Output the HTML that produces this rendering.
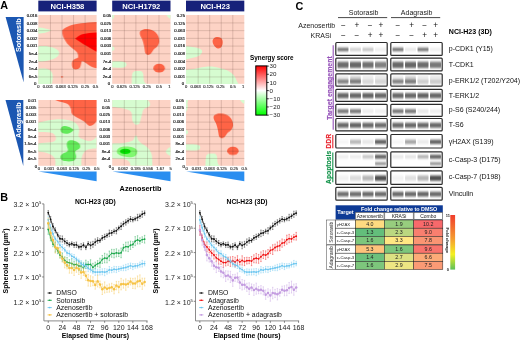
<!DOCTYPE html>
<html><head><meta charset="utf-8"><style>
html,body{margin:0;padding:0;background:#fff;}
body{width:520px;height:340px;overflow:hidden;}
svg{display:block;font-family:"Liberation Sans", sans-serif;will-change:transform;}
</style></head><body>
<svg width="520" height="340" viewBox="0 0 520 340">
<rect width="520" height="340" fill="#fff"/>
<text x="0.30" y="9.40" font-size="10.8" text-anchor="start" font-weight="bold" fill="#000" >A</text>
<rect x="38.30" y="0.6" width="58.30" height="10.8" fill="#17217a"/>
<text x="67.45" y="8.50" font-size="7.6" text-anchor="middle" font-weight="bold" fill="#fff" >NCI-H358</text>
<rect x="112.20" y="0.6" width="58.30" height="10.8" fill="#17217a"/>
<text x="141.35" y="8.50" font-size="7.6" text-anchor="middle" font-weight="bold" fill="#fff" >NCI-H1792</text>
<rect x="186.00" y="0.6" width="58.30" height="10.8" fill="#17217a"/>
<text x="215.15" y="8.50" font-size="7.6" text-anchor="middle" font-weight="bold" fill="#fff" >NCI-H23</text>
<g transform="translate(38.30,15.00)">
<rect x="0" y="0" width="58.30" height="68.80" fill="#fdd3c5"/>
<svg x="0" y="0" width="58.30" height="68.80" overflow="hidden"><g transform="scale(1,1.0000)">
<path d="M0,12.6 C5,12.6 9,14 12.6,15.6 C9,17.4 5,18.6 0,18.8 Z" fill="#d6fcd0"/>
<path d="M0,31.3 C4,31 9,30.8 11,31.8 C17,33 21,35 21,38.2 C20.5,41 18,43 15,44 C10,46 5,46.6 0,46.6 Z" fill="#d6fcd0"/>
<path d="M0,53.8 C3,53.4 6.6,53.2 9,54 C12,54.8 13.3,56.5 14.2,59 C15,62 14.3,66 13.5,69 L0,69 Z" fill="#d6fcd0"/>
<path d="M23.9,15.2 C26,12.8 29,11.5 32,10.4 C38,8.8 46,7.6 58.3,7 L58.3,53.2 C55,52.8 52.5,51.6 50,49.8 C47.8,48.2 45.5,46.2 43.6,46.2 C42.6,48 42.8,51 41.5,52.8 C40,54.5 37,54.8 35.3,54 C33.5,52.5 33.4,49 33.8,47 C34.5,44.5 37,43.5 39.5,43 C40.5,41 39.6,38.5 38.4,37 C35.5,34 31,31 29,28.7 C26.8,26 24.6,22 24,18.6 Z" fill="#fe6446"/>
<path d="M37.6,23.3 C39.8,20.8 42.5,19.6 45.2,19 C49,18.2 53,17.7 58.3,17.5 L58.3,36.8 C55.5,35 52.5,33 49.3,31.4 C45.5,29.5 42.4,27.5 40,25.8 C38.5,24.8 37.4,24 36.6,23.2 Z" fill="#ff0000"/>
<circle cx="23.7" cy="61.8" r="0.9" fill="#fe6446"/>
</g></svg>
<line x1="12.15" y1="0" x2="12.15" y2="68.80" stroke="#4a2a20" stroke-opacity="0.21" stroke-width="0.85"/>
<line x1="23.70" y1="0" x2="23.70" y2="68.80" stroke="#4a2a20" stroke-opacity="0.21" stroke-width="0.85"/>
<line x1="35.25" y1="0" x2="35.25" y2="68.80" stroke="#4a2a20" stroke-opacity="0.21" stroke-width="0.85"/>
<line x1="46.80" y1="0" x2="46.80" y2="68.80" stroke="#4a2a20" stroke-opacity="0.21" stroke-width="0.85"/>
<line x1="0" y1="7.92" x2="58.30" y2="7.92" stroke="#4a2a20" stroke-opacity="0.2" stroke-width="0.85"/>
<line x1="0" y1="15.64" x2="58.30" y2="15.64" stroke="#4a2a20" stroke-opacity="0.2" stroke-width="0.85"/>
<line x1="0" y1="23.36" x2="58.30" y2="23.36" stroke="#4a2a20" stroke-opacity="0.2" stroke-width="0.85"/>
<line x1="0" y1="31.08" x2="58.30" y2="31.08" stroke="#4a2a20" stroke-opacity="0.2" stroke-width="0.85"/>
<line x1="0" y1="38.80" x2="58.30" y2="38.80" stroke="#4a2a20" stroke-opacity="0.2" stroke-width="0.85"/>
<line x1="0" y1="46.52" x2="58.30" y2="46.52" stroke="#4a2a20" stroke-opacity="0.2" stroke-width="0.85"/>
<line x1="0" y1="54.24" x2="58.30" y2="54.24" stroke="#4a2a20" stroke-opacity="0.2" stroke-width="0.85"/>
<line x1="0" y1="61.96" x2="58.30" y2="61.96" stroke="#4a2a20" stroke-opacity="0.2" stroke-width="0.85"/>
</g>
<text x="37.30" y="16.90" font-size="4.25" text-anchor="end" fill="#222" stroke="#222" stroke-width="0.18">0.016</text>
<text x="37.30" y="24.54" font-size="4.25" text-anchor="end" fill="#222" stroke="#222" stroke-width="0.18">0.008</text>
<text x="37.30" y="32.19" font-size="4.25" text-anchor="end" fill="#222" stroke="#222" stroke-width="0.18">0.004</text>
<text x="37.30" y="39.83" font-size="4.25" text-anchor="end" fill="#222" stroke="#222" stroke-width="0.18">0.002</text>
<text x="37.30" y="47.48" font-size="4.25" text-anchor="end" fill="#222" stroke="#222" stroke-width="0.18">0.001</text>
<text x="37.30" y="55.12" font-size="4.25" text-anchor="end" fill="#222" stroke="#222" stroke-width="0.18">5e-4</text>
<text x="37.30" y="62.77" font-size="4.25" text-anchor="end" fill="#222" stroke="#222" stroke-width="0.18">2e-4</text>
<text x="37.30" y="70.41" font-size="4.25" text-anchor="end" fill="#222" stroke="#222" stroke-width="0.18">1e-4</text>
<text x="37.30" y="78.06" font-size="4.25" text-anchor="end" fill="#222" stroke="#222" stroke-width="0.18">6e-5</text>
<text x="36.30" y="85.10" font-size="4.25" text-anchor="end" fill="#222" stroke="#222" stroke-width="0.18">0</text>
<text x="38.50" y="88.30" font-size="4.05" text-anchor="middle" fill="#333" stroke="#333" stroke-width="0.15">0</text>
<text x="47.90" y="88.30" font-size="4.05" text-anchor="middle" fill="#333" stroke="#333" stroke-width="0.15">0.001</text>
<text x="60.70" y="88.30" font-size="4.05" text-anchor="middle" fill="#333" stroke="#333" stroke-width="0.15">0.063</text>
<text x="72.80" y="88.30" font-size="4.05" text-anchor="middle" fill="#333" stroke="#333" stroke-width="0.15">0.125</text>
<text x="85.20" y="88.30" font-size="4.05" text-anchor="middle" fill="#333" stroke="#333" stroke-width="0.15">0.25</text>
<text x="95.50" y="88.30" font-size="4.05" text-anchor="middle" fill="#333" stroke="#333" stroke-width="0.15">0.5</text>
<g transform="translate(38.30,100.00)">
<rect x="0" y="0" width="58.30" height="65.80" fill="#fdd3c5"/>
<svg x="0" y="0" width="58.30" height="65.80" overflow="hidden"><g transform="scale(1,1.0000)">
<path d="M0,22.6 C5,21.2 11,19.8 17,19.4 C23,19 29,19.6 33.5,21 C37.5,22.4 40,25 40.8,28.4 C41.2,31 40.6,33 40.1,35.4 C40.5,37.5 42.3,38.4 44,39 C47,40.5 50,41.5 52.5,41 C55,40.3 57,38.5 58.3,36.5 L58.3,48.6 C55,48.5 52.5,48.8 50.5,49.2 C47.5,50 45.5,52 44.2,55 C43,58 42.9,62 43.2,65.8 L17,65.8 C17.3,63 17.5,60 16.2,58 C14.5,55.5 11.5,53.8 8.5,53 C5,52 2.5,51.6 0,51.5 L0,43.4 C4,43 9,42.8 13.5,42.3 C16.5,41.6 17.8,40 17.7,38 C17.5,36 16.6,34.5 14.5,33.2 C11.5,32 7,32 3,32 L0,32 Z" fill="#d6fcd0"/>
<path d="M17,0 L58.3,0 L58.3,20.9 C57,23 55.5,24.5 53.5,25.5 C52,26.2 51,26 50.2,25.6 C48.5,24.2 47.5,22.8 45.9,21.5 C43,19.5 40,18 37.8,16.9 C35.5,15.8 33.8,14.5 33.2,12.8 C32.8,11 33,9.5 32.6,8.8 C31.8,6.5 30.5,5 29.3,4.1 C27,2.8 24.5,2.2 22.8,1.9 C20,1.4 18.5,0.8 17,0 Z" fill="#fe6446"/>
<path d="M22.3,29.8 C22.5,27.5 24,26.2 26,26 C28.5,25.8 31,26.8 33,28.2 C34.2,29 35.2,29.6 35.6,29.9 C34.5,31 33,32.4 31,33.2 C29,33.9 26.5,34 24.5,33.3 C23,32.6 22.2,31.3 22.3,29.8 Z" fill="#62ea5a"/>
<path d="M30.9,40.4 C33.5,40 36.5,40.5 39,42 C41.5,43.5 42.4,45.5 41.8,47.5 C41,49.3 38.5,50 37,51.2 C36.5,52.5 37.8,54.5 37.9,56.5 C38,58.5 36.8,60.5 34.5,61.1 C31.5,61.6 27,61.5 24.5,60.5 C22.4,59.5 21.8,57.8 22.2,56.2 C22.8,54.3 25,53.2 27.3,52.5 C29.3,51.6 30,50.5 29.6,49 C29,47.5 28.3,45.5 28.5,43.8 C28.7,42 29.5,40.7 30.9,40.4 Z" fill="#62ea5a"/>
</g></svg>
<line x1="12.10" y1="0" x2="12.10" y2="65.80" stroke="#4a2a20" stroke-opacity="0.21" stroke-width="0.85"/>
<line x1="23.70" y1="0" x2="23.70" y2="65.80" stroke="#4a2a20" stroke-opacity="0.21" stroke-width="0.85"/>
<line x1="35.30" y1="0" x2="35.30" y2="65.80" stroke="#4a2a20" stroke-opacity="0.21" stroke-width="0.85"/>
<line x1="46.90" y1="0" x2="46.90" y2="65.80" stroke="#4a2a20" stroke-opacity="0.21" stroke-width="0.85"/>
<line x1="0" y1="7.57" x2="58.30" y2="7.57" stroke="#4a2a20" stroke-opacity="0.2" stroke-width="0.85"/>
<line x1="0" y1="14.84" x2="58.30" y2="14.84" stroke="#4a2a20" stroke-opacity="0.2" stroke-width="0.85"/>
<line x1="0" y1="22.11" x2="58.30" y2="22.11" stroke="#4a2a20" stroke-opacity="0.2" stroke-width="0.85"/>
<line x1="0" y1="29.38" x2="58.30" y2="29.38" stroke="#4a2a20" stroke-opacity="0.2" stroke-width="0.85"/>
<line x1="0" y1="36.65" x2="58.30" y2="36.65" stroke="#4a2a20" stroke-opacity="0.2" stroke-width="0.85"/>
<line x1="0" y1="43.92" x2="58.30" y2="43.92" stroke="#4a2a20" stroke-opacity="0.2" stroke-width="0.85"/>
<line x1="0" y1="51.19" x2="58.30" y2="51.19" stroke="#4a2a20" stroke-opacity="0.2" stroke-width="0.85"/>
<line x1="0" y1="58.46" x2="58.30" y2="58.46" stroke="#4a2a20" stroke-opacity="0.2" stroke-width="0.85"/>
</g>
<text x="36.30" y="101.50" font-size="4.25" text-anchor="end" fill="#222" stroke="#222" stroke-width="0.18">0.01</text>
<text x="36.30" y="108.81" font-size="4.25" text-anchor="end" fill="#222" stroke="#222" stroke-width="0.18">0.005</text>
<text x="36.30" y="116.12" font-size="4.25" text-anchor="end" fill="#222" stroke="#222" stroke-width="0.18">0.003</text>
<text x="36.30" y="123.43" font-size="4.25" text-anchor="end" fill="#222" stroke="#222" stroke-width="0.18">0.001</text>
<text x="36.30" y="130.74" font-size="4.25" text-anchor="end" fill="#222" stroke="#222" stroke-width="0.18">6e-4</text>
<text x="36.30" y="138.06" font-size="4.25" text-anchor="end" fill="#222" stroke="#222" stroke-width="0.18">3e-4</text>
<text x="36.30" y="145.37" font-size="4.25" text-anchor="end" fill="#222" stroke="#222" stroke-width="0.18">1.5e-4</text>
<text x="36.30" y="152.68" font-size="4.25" text-anchor="end" fill="#222" stroke="#222" stroke-width="0.18">8e-5</text>
<text x="36.30" y="159.99" font-size="4.25" text-anchor="end" fill="#222" stroke="#222" stroke-width="0.18">4e-5</text>
<text x="37.10" y="167.60" font-size="4.25" text-anchor="end" fill="#222" stroke="#222" stroke-width="0.18">0</text>
<text x="39.00" y="170.30" font-size="4.05" text-anchor="middle" fill="#333" stroke="#333" stroke-width="0.15">0</text>
<text x="49.10" y="170.30" font-size="4.05" text-anchor="middle" fill="#333" stroke="#333" stroke-width="0.15">0.001</text>
<text x="61.90" y="170.30" font-size="4.05" text-anchor="middle" fill="#333" stroke="#333" stroke-width="0.15">0.063</text>
<text x="74.00" y="170.30" font-size="4.05" text-anchor="middle" fill="#333" stroke="#333" stroke-width="0.15">0.125</text>
<text x="86.40" y="170.30" font-size="4.05" text-anchor="middle" fill="#333" stroke="#333" stroke-width="0.15">0.25</text>
<text x="96.70" y="170.30" font-size="4.05" text-anchor="middle" fill="#333" stroke="#333" stroke-width="0.15">0.5</text>
<g transform="translate(112.20,15.00)">
<rect x="0" y="0" width="58.30" height="68.80" fill="#fdd3c5"/>
<svg x="0" y="0" width="58.30" height="68.80" overflow="hidden"><g transform="scale(1,1.0000)">
<path d="M0,0 L2,0 C2,2 1.5,3.5 0,4.8 Z" fill="#d6fcd0"/>
<path d="M54.3,0 L58.3,0 L58.3,3.8 C56.5,3.2 55,1.8 54.3,0 Z" fill="#d6fcd0"/>
<path d="M0,30.9 Q4.6,33.5 0,36.2 Z" fill="#d6fcd0"/>
<path d="M28,16.3 C30,14.6 32,14 34.4,14 C38,14 41.3,15.2 43.5,17.5 C46,20 47.3,23.5 47.1,26.7 C46.8,30 44.5,32.2 42.5,33.6 C40.5,35 40,37.5 38.5,38.8 C37.3,40 35.6,40.2 34.5,39.6 C33,38.8 32.7,37 32.5,35 C32.2,32 31.3,28.5 30.4,25.5 C29.6,22.8 27.3,20.5 27.5,18 C27.6,17.2 27.8,16.7 28,16.3 Z" fill="#fe6446"/>
<ellipse cx="46.9" cy="53.2" rx="5.8" ry="4.4" fill="#fe6446"/>
<path d="M0,46.3 C4,46.2 8,46.3 10.2,46.6 C13,47 14.4,48 14.3,49.6 C14.2,51 13.5,52 11.5,52.4 C8,52.9 4,52.8 0,52.6 Z" fill="#d6fcd0"/>
<path d="M19.4,69 C19.6,65 19.5,61 20.2,58.6 C20.8,56.8 22,56 23.5,55.9 L28,55.9 C29.8,56 30.8,57.5 31.1,59.5 C31.5,62 31.2,64.5 31.8,66.3 C32.5,67.7 33.5,68.5 34.4,69 Z" fill="#d6fcd0"/>
</g></svg>
<line x1="12.15" y1="0" x2="12.15" y2="68.80" stroke="#4a2a20" stroke-opacity="0.21" stroke-width="0.85"/>
<line x1="23.70" y1="0" x2="23.70" y2="68.80" stroke="#4a2a20" stroke-opacity="0.21" stroke-width="0.85"/>
<line x1="35.25" y1="0" x2="35.25" y2="68.80" stroke="#4a2a20" stroke-opacity="0.21" stroke-width="0.85"/>
<line x1="46.80" y1="0" x2="46.80" y2="68.80" stroke="#4a2a20" stroke-opacity="0.21" stroke-width="0.85"/>
<line x1="0" y1="7.92" x2="58.30" y2="7.92" stroke="#4a2a20" stroke-opacity="0.2" stroke-width="0.85"/>
<line x1="0" y1="15.64" x2="58.30" y2="15.64" stroke="#4a2a20" stroke-opacity="0.2" stroke-width="0.85"/>
<line x1="0" y1="23.36" x2="58.30" y2="23.36" stroke="#4a2a20" stroke-opacity="0.2" stroke-width="0.85"/>
<line x1="0" y1="31.08" x2="58.30" y2="31.08" stroke="#4a2a20" stroke-opacity="0.2" stroke-width="0.85"/>
<line x1="0" y1="38.80" x2="58.30" y2="38.80" stroke="#4a2a20" stroke-opacity="0.2" stroke-width="0.85"/>
<line x1="0" y1="46.52" x2="58.30" y2="46.52" stroke="#4a2a20" stroke-opacity="0.2" stroke-width="0.85"/>
<line x1="0" y1="54.24" x2="58.30" y2="54.24" stroke="#4a2a20" stroke-opacity="0.2" stroke-width="0.85"/>
<line x1="0" y1="61.96" x2="58.30" y2="61.96" stroke="#4a2a20" stroke-opacity="0.2" stroke-width="0.85"/>
</g>
<text x="111.20" y="16.90" font-size="4.25" text-anchor="end" fill="#222" stroke="#222" stroke-width="0.18">0.05</text>
<text x="111.20" y="24.54" font-size="4.25" text-anchor="end" fill="#222" stroke="#222" stroke-width="0.18">0.025</text>
<text x="111.20" y="32.19" font-size="4.25" text-anchor="end" fill="#222" stroke="#222" stroke-width="0.18">0.013</text>
<text x="111.20" y="39.83" font-size="4.25" text-anchor="end" fill="#222" stroke="#222" stroke-width="0.18">0.006</text>
<text x="111.20" y="47.48" font-size="4.25" text-anchor="end" fill="#222" stroke="#222" stroke-width="0.18">0.003</text>
<text x="111.20" y="55.12" font-size="4.25" text-anchor="end" fill="#222" stroke="#222" stroke-width="0.18">0.001</text>
<text x="111.20" y="62.77" font-size="4.25" text-anchor="end" fill="#222" stroke="#222" stroke-width="0.18">7e-4</text>
<text x="111.20" y="70.41" font-size="4.25" text-anchor="end" fill="#222" stroke="#222" stroke-width="0.18">4e-4</text>
<text x="111.20" y="78.06" font-size="4.25" text-anchor="end" fill="#222" stroke="#222" stroke-width="0.18">2e-4</text>
<text x="110.20" y="85.10" font-size="4.25" text-anchor="end" fill="#222" stroke="#222" stroke-width="0.18">0</text>
<text x="112.40" y="88.30" font-size="4.05" text-anchor="middle" fill="#333" stroke="#333" stroke-width="0.15">0</text>
<text x="121.80" y="88.30" font-size="4.05" text-anchor="middle" fill="#333" stroke="#333" stroke-width="0.15">0.625</text>
<text x="134.60" y="88.30" font-size="4.05" text-anchor="middle" fill="#333" stroke="#333" stroke-width="0.15">0.125</text>
<text x="146.70" y="88.30" font-size="4.05" text-anchor="middle" fill="#333" stroke="#333" stroke-width="0.15">0.25</text>
<text x="159.10" y="88.30" font-size="4.05" text-anchor="middle" fill="#333" stroke="#333" stroke-width="0.15">0.5</text>
<text x="169.40" y="88.30" font-size="4.05" text-anchor="middle" fill="#333" stroke="#333" stroke-width="0.15">1</text>
<g transform="translate(112.20,100.00)">
<rect x="0" y="0" width="58.30" height="65.80" fill="#fdd3c5"/>
<svg x="0" y="0" width="58.30" height="65.80" overflow="hidden"><g transform="scale(1,1.0000)">
<path d="M0,0 L35.6,0 C37,1.5 38,3 37.9,4.8 C37.5,6.5 35.5,7.3 33.5,8 C31.5,8.8 30.7,10 30.4,11.8 C30,14 29.2,16.5 28.6,18.7 C28,21 27.6,23 26.9,23.9 C25.5,24.8 23.8,24.8 22.9,24.4 C21.2,23.2 20.3,21.5 20,19.8 C19.8,17 19.8,14.5 19.4,12.9 C18.4,10.8 16.5,9.8 14.8,9.4 C11,8.3 7,7.8 3.5,7.3 L0,7.1 Z" fill="#d6fcd0"/>
<path d="M0,43.4 C4,43.2 8,43.1 11.3,42.9 C15,42.5 18.5,41.8 20.6,40.6 C22,39.3 22.3,37 23,35.8 C23.6,35.2 24.4,35.4 24.8,36.5 C25.2,38 25.3,39.5 26.5,41 C28,42.6 29.8,43.8 31,44.6 C33.5,46 35.5,47.5 36.7,49.2 C38.3,51.2 39.3,53.3 39.6,55 C40,58 40.1,62 40.2,65.8 L18.3,65.8 C18.1,64 17.9,62.8 17.1,61.9 C15.6,60.2 13.8,59.4 11.3,59 C7.5,58.6 3.5,58.4 0,58.4 Z" fill="#d6fcd0"/>
<path d="M58.3,46.9 C56,47.8 54,49.5 53.5,51.5 C54,53.5 56,55.2 58.3,56.1 Z" fill="#d6fcd0"/>
<path d="M4.6,51.5 C4.6,48.5 8,46.6 13,46.5 C18.5,46.4 23.5,47.8 24.8,50.5 C25.6,52.5 24.6,55 22.2,56.4 C20,57.4 16,57.4 12,56.6 C7.5,55.6 4.6,54 4.6,51.5 Z" fill="#80f870"/>
<ellipse cx="13.1" cy="51.3" rx="5.2" ry="2.6" fill="#00e400"/>
</g></svg>
<line x1="12.10" y1="0" x2="12.10" y2="65.80" stroke="#4a2a20" stroke-opacity="0.21" stroke-width="0.85"/>
<line x1="23.70" y1="0" x2="23.70" y2="65.80" stroke="#4a2a20" stroke-opacity="0.21" stroke-width="0.85"/>
<line x1="35.30" y1="0" x2="35.30" y2="65.80" stroke="#4a2a20" stroke-opacity="0.21" stroke-width="0.85"/>
<line x1="46.90" y1="0" x2="46.90" y2="65.80" stroke="#4a2a20" stroke-opacity="0.21" stroke-width="0.85"/>
<line x1="0" y1="7.57" x2="58.30" y2="7.57" stroke="#4a2a20" stroke-opacity="0.2" stroke-width="0.85"/>
<line x1="0" y1="14.84" x2="58.30" y2="14.84" stroke="#4a2a20" stroke-opacity="0.2" stroke-width="0.85"/>
<line x1="0" y1="22.11" x2="58.30" y2="22.11" stroke="#4a2a20" stroke-opacity="0.2" stroke-width="0.85"/>
<line x1="0" y1="29.38" x2="58.30" y2="29.38" stroke="#4a2a20" stroke-opacity="0.2" stroke-width="0.85"/>
<line x1="0" y1="36.65" x2="58.30" y2="36.65" stroke="#4a2a20" stroke-opacity="0.2" stroke-width="0.85"/>
<line x1="0" y1="43.92" x2="58.30" y2="43.92" stroke="#4a2a20" stroke-opacity="0.2" stroke-width="0.85"/>
<line x1="0" y1="51.19" x2="58.30" y2="51.19" stroke="#4a2a20" stroke-opacity="0.2" stroke-width="0.85"/>
<line x1="0" y1="58.46" x2="58.30" y2="58.46" stroke="#4a2a20" stroke-opacity="0.2" stroke-width="0.85"/>
</g>
<text x="110.20" y="101.50" font-size="4.25" text-anchor="end" fill="#222" stroke="#222" stroke-width="0.18">0.1</text>
<text x="110.20" y="108.81" font-size="4.25" text-anchor="end" fill="#222" stroke="#222" stroke-width="0.18">0.05</text>
<text x="110.20" y="116.12" font-size="4.25" text-anchor="end" fill="#222" stroke="#222" stroke-width="0.18">0.025</text>
<text x="110.20" y="123.43" font-size="4.25" text-anchor="end" fill="#222" stroke="#222" stroke-width="0.18">0.013</text>
<text x="110.20" y="130.74" font-size="4.25" text-anchor="end" fill="#222" stroke="#222" stroke-width="0.18">0.006</text>
<text x="110.20" y="138.06" font-size="4.25" text-anchor="end" fill="#222" stroke="#222" stroke-width="0.18">0.003</text>
<text x="110.20" y="145.37" font-size="4.25" text-anchor="end" fill="#222" stroke="#222" stroke-width="0.18">0.001</text>
<text x="110.20" y="152.68" font-size="4.25" text-anchor="end" fill="#222" stroke="#222" stroke-width="0.18">8e-4</text>
<text x="110.20" y="159.99" font-size="4.25" text-anchor="end" fill="#222" stroke="#222" stroke-width="0.18">4e-4</text>
<text x="111.00" y="167.60" font-size="4.25" text-anchor="end" fill="#222" stroke="#222" stroke-width="0.18">0</text>
<text x="112.90" y="170.30" font-size="4.05" text-anchor="middle" fill="#333" stroke="#333" stroke-width="0.15">0</text>
<text x="123.00" y="170.30" font-size="4.05" text-anchor="middle" fill="#333" stroke="#333" stroke-width="0.15">0.062</text>
<text x="135.80" y="170.30" font-size="4.05" text-anchor="middle" fill="#333" stroke="#333" stroke-width="0.15">0.185</text>
<text x="147.90" y="170.30" font-size="4.05" text-anchor="middle" fill="#333" stroke="#333" stroke-width="0.15">0.556</text>
<text x="160.30" y="170.30" font-size="4.05" text-anchor="middle" fill="#333" stroke="#333" stroke-width="0.15">1.67</text>
<text x="170.60" y="170.30" font-size="4.05" text-anchor="middle" fill="#333" stroke="#333" stroke-width="0.15">5</text>
<g transform="translate(186.00,15.00)">
<rect x="0" y="0" width="58.30" height="68.80" fill="#fdd3c5"/>
<svg x="0" y="0" width="58.30" height="68.80" overflow="hidden"><g transform="scale(1,1.0000)">
<path d="M30.6,22.1 C33.5,21.8 35.6,22.8 36.3,24.8 C37,27 36.8,29.5 35.8,31.3 C34.8,33 33.3,33.8 31.8,33.5 C30,33 28.5,31.5 27.6,29.8 C26.6,28 26.2,26 27,24.5 C27.8,23 29,22.3 30.6,22.1 Z" fill="#fe6446"/>
<path d="M0,31.3 C4,31.5 9,32.2 12.5,33.2 C15.5,34 16.8,35.5 16,37.5 C15,39.7 13,41 10,42 C6.5,43 3,43.8 0,44.5 Z" fill="#d6fcd0"/>
<path d="M0,54.9 C3,54.7 7,54.3 10,53.6 C14,52.6 18,51.8 22,51.5 C26,51.3 30,52 34.6,53.2 C38.5,54.3 41.6,55.2 44,56.9 C46.6,58.5 48.4,60.5 49.5,63 C50.5,65.5 51.5,67.5 52.5,69 L0,69 Z" fill="#d6fcd0"/>
</g></svg>
<line x1="12.15" y1="0" x2="12.15" y2="68.80" stroke="#4a2a20" stroke-opacity="0.21" stroke-width="0.85"/>
<line x1="23.70" y1="0" x2="23.70" y2="68.80" stroke="#4a2a20" stroke-opacity="0.21" stroke-width="0.85"/>
<line x1="35.25" y1="0" x2="35.25" y2="68.80" stroke="#4a2a20" stroke-opacity="0.21" stroke-width="0.85"/>
<line x1="46.80" y1="0" x2="46.80" y2="68.80" stroke="#4a2a20" stroke-opacity="0.21" stroke-width="0.85"/>
<line x1="0" y1="7.92" x2="58.30" y2="7.92" stroke="#4a2a20" stroke-opacity="0.2" stroke-width="0.85"/>
<line x1="0" y1="15.64" x2="58.30" y2="15.64" stroke="#4a2a20" stroke-opacity="0.2" stroke-width="0.85"/>
<line x1="0" y1="23.36" x2="58.30" y2="23.36" stroke="#4a2a20" stroke-opacity="0.2" stroke-width="0.85"/>
<line x1="0" y1="31.08" x2="58.30" y2="31.08" stroke="#4a2a20" stroke-opacity="0.2" stroke-width="0.85"/>
<line x1="0" y1="38.80" x2="58.30" y2="38.80" stroke="#4a2a20" stroke-opacity="0.2" stroke-width="0.85"/>
<line x1="0" y1="46.52" x2="58.30" y2="46.52" stroke="#4a2a20" stroke-opacity="0.2" stroke-width="0.85"/>
<line x1="0" y1="54.24" x2="58.30" y2="54.24" stroke="#4a2a20" stroke-opacity="0.2" stroke-width="0.85"/>
<line x1="0" y1="61.96" x2="58.30" y2="61.96" stroke="#4a2a20" stroke-opacity="0.2" stroke-width="0.85"/>
</g>
<text x="185.00" y="16.90" font-size="4.25" text-anchor="end" fill="#222" stroke="#222" stroke-width="0.18">0.25</text>
<text x="185.00" y="24.54" font-size="4.25" text-anchor="end" fill="#222" stroke="#222" stroke-width="0.18">0.125</text>
<text x="185.00" y="32.19" font-size="4.25" text-anchor="end" fill="#222" stroke="#222" stroke-width="0.18">0.063</text>
<text x="185.00" y="39.83" font-size="4.25" text-anchor="end" fill="#222" stroke="#222" stroke-width="0.18">0.031</text>
<text x="185.00" y="47.48" font-size="4.25" text-anchor="end" fill="#222" stroke="#222" stroke-width="0.18">0.016</text>
<text x="185.00" y="55.12" font-size="4.25" text-anchor="end" fill="#222" stroke="#222" stroke-width="0.18">0.008</text>
<text x="185.00" y="62.77" font-size="4.25" text-anchor="end" fill="#222" stroke="#222" stroke-width="0.18">0.004</text>
<text x="185.00" y="70.41" font-size="4.25" text-anchor="end" fill="#222" stroke="#222" stroke-width="0.18">0.002</text>
<text x="185.00" y="78.06" font-size="4.25" text-anchor="end" fill="#222" stroke="#222" stroke-width="0.18">0.001</text>
<text x="184.00" y="85.10" font-size="4.25" text-anchor="end" fill="#222" stroke="#222" stroke-width="0.18">0</text>
<text x="186.20" y="88.30" font-size="4.05" text-anchor="middle" fill="#333" stroke="#333" stroke-width="0.15">0</text>
<text x="195.60" y="88.30" font-size="4.05" text-anchor="middle" fill="#333" stroke="#333" stroke-width="0.15">0.063</text>
<text x="208.40" y="88.30" font-size="4.05" text-anchor="middle" fill="#333" stroke="#333" stroke-width="0.15">0.125</text>
<text x="220.50" y="88.30" font-size="4.05" text-anchor="middle" fill="#333" stroke="#333" stroke-width="0.15">0.25</text>
<text x="232.90" y="88.30" font-size="4.05" text-anchor="middle" fill="#333" stroke="#333" stroke-width="0.15">0.5</text>
<text x="243.20" y="88.30" font-size="4.05" text-anchor="middle" fill="#333" stroke="#333" stroke-width="0.15">1</text>
<g transform="translate(186.00,100.00)">
<rect x="0" y="0" width="58.30" height="65.80" fill="#fdd3c5"/>
<svg x="0" y="0" width="58.30" height="65.80" overflow="hidden"><g transform="scale(1,0.9564)">
<path d="M0,0 L2,0 C2,2 1.5,3.5 0,4.8 Z" fill="#d6fcd0"/>
<path d="M54.3,0 L58.3,0 L58.3,3.8 C56.5,3.2 55,1.8 54.3,0 Z" fill="#d6fcd0"/>
<path d="M0,30.9 Q4.6,33.5 0,36.2 Z" fill="#d6fcd0"/>
<path d="M28,16.3 C30,14.6 32,14 34.4,14 C38,14 41.3,15.2 43.5,17.5 C46,20 47.3,23.5 47.1,26.7 C46.8,30 44.5,32.2 42.5,33.6 C40.5,35 40,37.5 38.5,38.8 C37.3,40 35.6,40.2 34.5,39.6 C33,38.8 32.7,37 32.5,35 C32.2,32 31.3,28.5 30.4,25.5 C29.6,22.8 27.3,20.5 27.5,18 C27.6,17.2 27.8,16.7 28,16.3 Z" fill="#fe6446"/>
<ellipse cx="46.9" cy="53.2" rx="5.8" ry="4.4" fill="#fe6446"/>
<path d="M0,46.3 C4,46.2 8,46.3 10.2,46.6 C13,47 14.4,48 14.3,49.6 C14.2,51 13.5,52 11.5,52.4 C8,52.9 4,52.8 0,52.6 Z" fill="#d6fcd0"/>
<path d="M19.4,69 C19.6,65 19.5,61 20.2,58.6 C20.8,56.8 22,56 23.5,55.9 L28,55.9 C29.8,56 30.8,57.5 31.1,59.5 C31.5,62 31.2,64.5 31.8,66.3 C32.5,67.7 33.5,68.5 34.4,69 Z" fill="#d6fcd0"/>
<path d="M0,1 Q3.6,6.5 0,12.5 Z" fill="#d6fcd0"/>
</g></svg>
<line x1="12.10" y1="0" x2="12.10" y2="65.80" stroke="#4a2a20" stroke-opacity="0.21" stroke-width="0.85"/>
<line x1="23.70" y1="0" x2="23.70" y2="65.80" stroke="#4a2a20" stroke-opacity="0.21" stroke-width="0.85"/>
<line x1="35.30" y1="0" x2="35.30" y2="65.80" stroke="#4a2a20" stroke-opacity="0.21" stroke-width="0.85"/>
<line x1="46.90" y1="0" x2="46.90" y2="65.80" stroke="#4a2a20" stroke-opacity="0.21" stroke-width="0.85"/>
<line x1="0" y1="7.57" x2="58.30" y2="7.57" stroke="#4a2a20" stroke-opacity="0.2" stroke-width="0.85"/>
<line x1="0" y1="14.84" x2="58.30" y2="14.84" stroke="#4a2a20" stroke-opacity="0.2" stroke-width="0.85"/>
<line x1="0" y1="22.11" x2="58.30" y2="22.11" stroke="#4a2a20" stroke-opacity="0.2" stroke-width="0.85"/>
<line x1="0" y1="29.38" x2="58.30" y2="29.38" stroke="#4a2a20" stroke-opacity="0.2" stroke-width="0.85"/>
<line x1="0" y1="36.65" x2="58.30" y2="36.65" stroke="#4a2a20" stroke-opacity="0.2" stroke-width="0.85"/>
<line x1="0" y1="43.92" x2="58.30" y2="43.92" stroke="#4a2a20" stroke-opacity="0.2" stroke-width="0.85"/>
<line x1="0" y1="51.19" x2="58.30" y2="51.19" stroke="#4a2a20" stroke-opacity="0.2" stroke-width="0.85"/>
<line x1="0" y1="58.46" x2="58.30" y2="58.46" stroke="#4a2a20" stroke-opacity="0.2" stroke-width="0.85"/>
</g>
<text x="184.00" y="101.50" font-size="4.25" text-anchor="end" fill="#222" stroke="#222" stroke-width="0.18">0.05</text>
<text x="184.00" y="108.81" font-size="4.25" text-anchor="end" fill="#222" stroke="#222" stroke-width="0.18">0.025</text>
<text x="184.00" y="116.12" font-size="4.25" text-anchor="end" fill="#222" stroke="#222" stroke-width="0.18">0.013</text>
<text x="184.00" y="123.43" font-size="4.25" text-anchor="end" fill="#222" stroke="#222" stroke-width="0.18">0.006</text>
<text x="184.00" y="130.74" font-size="4.25" text-anchor="end" fill="#222" stroke="#222" stroke-width="0.18">0.003</text>
<text x="184.00" y="138.06" font-size="4.25" text-anchor="end" fill="#222" stroke="#222" stroke-width="0.18">0.001</text>
<text x="184.00" y="145.37" font-size="4.25" text-anchor="end" fill="#222" stroke="#222" stroke-width="0.18">8e-4</text>
<text x="184.00" y="152.68" font-size="4.25" text-anchor="end" fill="#222" stroke="#222" stroke-width="0.18">4e-4</text>
<text x="184.00" y="159.99" font-size="4.25" text-anchor="end" fill="#222" stroke="#222" stroke-width="0.18">2e-4</text>
<text x="184.80" y="167.60" font-size="4.25" text-anchor="end" fill="#222" stroke="#222" stroke-width="0.18">0</text>
<text x="186.70" y="170.30" font-size="4.05" text-anchor="middle" fill="#333" stroke="#333" stroke-width="0.15">0</text>
<text x="196.80" y="170.30" font-size="4.05" text-anchor="middle" fill="#333" stroke="#333" stroke-width="0.15">0.031</text>
<text x="209.60" y="170.30" font-size="4.05" text-anchor="middle" fill="#333" stroke="#333" stroke-width="0.15">0.063</text>
<text x="221.70" y="170.30" font-size="4.05" text-anchor="middle" fill="#333" stroke="#333" stroke-width="0.15">0.125</text>
<text x="234.10" y="170.30" font-size="4.05" text-anchor="middle" fill="#333" stroke="#333" stroke-width="0.15">0.25</text>
<text x="244.40" y="170.30" font-size="4.05" text-anchor="middle" fill="#333" stroke="#333" stroke-width="0.15">0.5</text>
<polygon points="5.6,17.1 23.6,17.1 23.6,82.2" fill="#1b57b2"/>
<polygon points="5.5,100.0 23.3,100.0 23.3,166.0" fill="#1b57b2"/>
<text x="0.00" y="0.00" font-size="7.3" text-anchor="middle" font-weight="bold" fill="#fff" transform="translate(21.4,35.2) rotate(-90)">Sotorasib</text>
<text x="0.00" y="0.00" font-size="7.3" text-anchor="middle" font-weight="bold" fill="#fff" transform="translate(21.4,120.2) rotate(-90)">Adagrasib</text>
<polygon points="38.50,171.6 96.60,171.6 96.60,181.2" fill="#2a8ef0"/>
<polygon points="112.40,171.6 170.50,171.6 170.50,181.2" fill="#2a8ef0"/>
<polygon points="186.20,171.6 244.30,171.6 244.30,181.2" fill="#2a8ef0"/>
<text x="140.50" y="190.60" font-size="7.3" text-anchor="middle" font-weight="bold" fill="#000" >Azenosertib</text>
<text x="250.10" y="59.90" font-size="6.3" text-anchor="start" font-weight="bold" fill="#000" >Synergy score</text>
<defs><linearGradient id="syn" x1="0" y1="0" x2="0" y2="1"><stop offset="0" stop-color="#ff0000"/><stop offset="0.5" stop-color="#ffffff"/><stop offset="1" stop-color="#00ff00"/></linearGradient><linearGradient id="fc" x1="0" y1="0" x2="0" y2="1"><stop offset="0" stop-color="#f03c2c"/><stop offset="0.45" stop-color="#f5a030"/><stop offset="0.72" stop-color="#f4f020"/><stop offset="1" stop-color="#5cc05a"/></linearGradient></defs>
<rect x="255.8" y="65.9" width="11" height="49.2" fill="url(#syn)" stroke="#000" stroke-width="1"/>
<line x1="266.8" y1="66.10" x2="268.8" y2="66.10" stroke="#000" stroke-width="0.8"/>
<text x="269.60" y="68.30" font-size="6.2" text-anchor="start" fill="#222" >30</text>
<line x1="266.8" y1="74.27" x2="268.8" y2="74.27" stroke="#000" stroke-width="0.8"/>
<text x="269.60" y="76.47" font-size="6.2" text-anchor="start" fill="#222" >20</text>
<line x1="266.8" y1="82.44" x2="268.8" y2="82.44" stroke="#000" stroke-width="0.8"/>
<text x="269.60" y="84.64" font-size="6.2" text-anchor="start" fill="#222" >10</text>
<line x1="266.8" y1="90.61" x2="268.8" y2="90.61" stroke="#000" stroke-width="0.8"/>
<text x="269.60" y="92.81" font-size="6.2" text-anchor="start" fill="#222" >0</text>
<line x1="266.8" y1="98.78" x2="268.8" y2="98.78" stroke="#000" stroke-width="0.8"/>
<text x="269.60" y="100.98" font-size="6.2" text-anchor="start" fill="#222" >−10</text>
<line x1="266.8" y1="106.95" x2="268.8" y2="106.95" stroke="#000" stroke-width="0.8"/>
<text x="269.60" y="109.15" font-size="6.2" text-anchor="start" fill="#222" >−20</text>
<line x1="266.8" y1="115.12" x2="268.8" y2="115.12" stroke="#000" stroke-width="0.8"/>
<text x="269.60" y="117.32" font-size="6.2" text-anchor="start" fill="#222" >−30</text>
<text x="0.30" y="200.80" font-size="10.8" text-anchor="start" font-weight="bold" fill="#000" >B</text>
<path d="M43.90,203.9 V320.9 H147.50" stroke="#777" stroke-width="0.85" fill="none"/>
<line x1="42.10" y1="203.90" x2="43.90" y2="203.90" stroke="#666" stroke-width="0.8"/>
<text x="41.30" y="207.10" font-size="7" text-anchor="end" fill="#222">3.2 × 10<tspan font-size="4.2" dy="-2.8">5</tspan></text>
<line x1="42.10" y1="228.25" x2="43.90" y2="228.25" stroke="#666" stroke-width="0.8"/>
<text x="41.30" y="231.45" font-size="7" text-anchor="end" fill="#222">2.7 × 10<tspan font-size="4.2" dy="-2.8">5</tspan></text>
<line x1="42.10" y1="252.60" x2="43.90" y2="252.60" stroke="#666" stroke-width="0.8"/>
<text x="41.30" y="255.80" font-size="7" text-anchor="end" fill="#222">2.2 × 10<tspan font-size="4.2" dy="-2.8">5</tspan></text>
<line x1="42.10" y1="276.95" x2="43.90" y2="276.95" stroke="#666" stroke-width="0.8"/>
<text x="41.30" y="280.15" font-size="7" text-anchor="end" fill="#222">1.7 × 10<tspan font-size="4.2" dy="-2.8">5</tspan></text>
<line x1="42.10" y1="301.30" x2="43.90" y2="301.30" stroke="#666" stroke-width="0.8"/>
<text x="41.30" y="304.50" font-size="7" text-anchor="end" fill="#222">1.2 × 10<tspan font-size="4.2" dy="-2.8">5</tspan></text>
<line x1="48.25" y1="320.9" x2="48.25" y2="322.8" stroke="#666" stroke-width="0.8"/>
<text x="48.25" y="330.00" font-size="7" text-anchor="middle" fill="#222" >0</text>
<line x1="62.35" y1="320.9" x2="62.35" y2="322.8" stroke="#666" stroke-width="0.8"/>
<text x="62.35" y="330.00" font-size="7" text-anchor="middle" fill="#222" >24</text>
<line x1="76.45" y1="320.9" x2="76.45" y2="322.8" stroke="#666" stroke-width="0.8"/>
<text x="76.45" y="330.00" font-size="7" text-anchor="middle" fill="#222" >48</text>
<line x1="90.55" y1="320.9" x2="90.55" y2="322.8" stroke="#666" stroke-width="0.8"/>
<text x="90.55" y="330.00" font-size="7" text-anchor="middle" fill="#222" >72</text>
<line x1="104.65" y1="320.9" x2="104.65" y2="322.8" stroke="#666" stroke-width="0.8"/>
<text x="104.65" y="330.00" font-size="7" text-anchor="middle" fill="#222" >96</text>
<line x1="118.75" y1="320.9" x2="118.75" y2="322.8" stroke="#666" stroke-width="0.8"/>
<text x="118.75" y="330.00" font-size="7" text-anchor="middle" fill="#222" >120</text>
<line x1="132.85" y1="320.9" x2="132.85" y2="322.8" stroke="#666" stroke-width="0.8"/>
<text x="132.85" y="330.00" font-size="7" text-anchor="middle" fill="#222" >144</text>
<line x1="146.95" y1="320.9" x2="146.95" y2="322.8" stroke="#666" stroke-width="0.8"/>
<text x="146.95" y="330.00" font-size="7" text-anchor="middle" fill="#222" >168</text>
<text x="95.40" y="338.40" font-size="6.8" text-anchor="middle" font-weight="bold" fill="#000" >Elapsed time (hours)</text>
<text x="95.40" y="203.90" font-size="6.7" text-anchor="middle" font-weight="bold" fill="#000" >NCI-H23 (3D)</text>
<text x="0" y="0" font-size="6.9" font-weight="bold" text-anchor="middle" fill="#000" transform="translate(7.90,261) rotate(-90)">Spheroid area (µm<tspan font-size="4.2" dy="-2.6">2</tspan><tspan dy="2.6">)</tspan></text>
<path d="M48.25,210.60V214.75M47.55,210.60H48.95M47.55,214.75H48.95" stroke="#111111" stroke-width="0.55" fill="none" opacity="0.72"/>
<path d="M50.60,216.46V222.25M49.90,216.46H51.30M49.90,222.25H51.30" stroke="#111111" stroke-width="0.55" fill="none" opacity="0.72"/>
<path d="M52.95,223.58V229.20M52.25,223.58H53.65M52.25,229.20H53.65" stroke="#111111" stroke-width="0.55" fill="none" opacity="0.72"/>
<path d="M55.30,227.77V232.91M54.60,227.77H56.00M54.60,232.91H56.00" stroke="#111111" stroke-width="0.55" fill="none" opacity="0.72"/>
<path d="M57.65,232.70V237.01M56.95,232.70H58.35M56.95,237.01H58.35" stroke="#111111" stroke-width="0.55" fill="none" opacity="0.72"/>
<path d="M60.00,235.67V241.78M59.30,235.67H60.70M59.30,241.78H60.70" stroke="#111111" stroke-width="0.55" fill="none" opacity="0.72"/>
<path d="M62.35,235.93V242.09M61.65,235.93H63.05M61.65,242.09H63.05" stroke="#111111" stroke-width="0.55" fill="none" opacity="0.72"/>
<path d="M64.70,238.66V243.90M64.00,238.66H65.40M64.00,243.90H65.40" stroke="#111111" stroke-width="0.55" fill="none" opacity="0.72"/>
<path d="M67.05,240.48V245.70M66.35,240.48H67.75M66.35,245.70H67.75" stroke="#111111" stroke-width="0.55" fill="none" opacity="0.72"/>
<path d="M69.40,242.47V246.85M68.70,242.47H70.10M68.70,246.85H70.10" stroke="#111111" stroke-width="0.55" fill="none" opacity="0.72"/>
<path d="M71.75,241.82V245.47M71.05,241.82H72.45M71.05,245.47H72.45" stroke="#111111" stroke-width="0.55" fill="none" opacity="0.72"/>
<path d="M74.10,242.59V247.39M73.40,242.59H74.80M73.40,247.39H74.80" stroke="#111111" stroke-width="0.55" fill="none" opacity="0.72"/>
<path d="M76.45,242.01V247.48M75.75,242.01H77.15M75.75,247.48H77.15" stroke="#111111" stroke-width="0.55" fill="none" opacity="0.72"/>
<path d="M78.80,245.00V248.86M78.10,245.00H79.50M78.10,248.86H79.50" stroke="#111111" stroke-width="0.55" fill="none" opacity="0.72"/>
<path d="M81.15,243.64V249.76M80.45,243.64H81.85M80.45,249.76H81.85" stroke="#111111" stroke-width="0.55" fill="none" opacity="0.72"/>
<path d="M83.50,242.83V247.19M82.80,242.83H84.20M82.80,247.19H84.20" stroke="#111111" stroke-width="0.55" fill="none" opacity="0.72"/>
<path d="M85.85,245.27V249.64M85.15,245.27H86.55M85.15,249.64H86.55" stroke="#111111" stroke-width="0.55" fill="none" opacity="0.72"/>
<path d="M88.20,241.66V245.43M87.50,241.66H88.90M87.50,245.43H88.90" stroke="#111111" stroke-width="0.55" fill="none" opacity="0.72"/>
<path d="M90.55,242.02V248.78M89.85,242.02H91.25M89.85,248.78H91.25" stroke="#111111" stroke-width="0.55" fill="none" opacity="0.72"/>
<path d="M92.90,241.33V247.27M92.20,241.33H93.60M92.20,247.27H93.60" stroke="#111111" stroke-width="0.55" fill="none" opacity="0.72"/>
<path d="M95.25,238.92V245.29M94.55,238.92H95.95M94.55,245.29H95.95" stroke="#111111" stroke-width="0.55" fill="none" opacity="0.72"/>
<path d="M97.60,237.71V243.27M96.90,237.71H98.30M96.90,243.27H98.30" stroke="#111111" stroke-width="0.55" fill="none" opacity="0.72"/>
<path d="M99.95,238.70V242.45M99.25,238.70H100.65M99.25,242.45H100.65" stroke="#111111" stroke-width="0.55" fill="none" opacity="0.72"/>
<path d="M102.30,235.57V240.23M101.60,235.57H103.00M101.60,240.23H103.00" stroke="#111111" stroke-width="0.55" fill="none" opacity="0.72"/>
<path d="M104.65,234.19V239.38M103.95,234.19H105.35M103.95,239.38H105.35" stroke="#111111" stroke-width="0.55" fill="none" opacity="0.72"/>
<path d="M107.00,233.44V237.44M106.30,233.44H107.70M106.30,237.44H107.70" stroke="#111111" stroke-width="0.55" fill="none" opacity="0.72"/>
<path d="M109.35,230.03V236.64M108.65,230.03H110.05M108.65,236.64H110.05" stroke="#111111" stroke-width="0.55" fill="none" opacity="0.72"/>
<path d="M111.70,230.51V235.30M111.00,230.51H112.40M111.00,235.30H112.40" stroke="#111111" stroke-width="0.55" fill="none" opacity="0.72"/>
<path d="M114.05,229.23V233.35M113.35,229.23H114.75M113.35,233.35H114.75" stroke="#111111" stroke-width="0.55" fill="none" opacity="0.72"/>
<path d="M116.40,227.68V233.87M115.70,227.68H117.10M115.70,233.87H117.10" stroke="#111111" stroke-width="0.55" fill="none" opacity="0.72"/>
<path d="M118.75,225.99V230.02M118.05,225.99H119.45M118.05,230.02H119.45" stroke="#111111" stroke-width="0.55" fill="none" opacity="0.72"/>
<path d="M121.10,223.00V229.53M120.40,223.00H121.80M120.40,229.53H121.80" stroke="#111111" stroke-width="0.55" fill="none" opacity="0.72"/>
<path d="M123.45,221.32V226.37M122.75,221.32H124.15M122.75,226.37H124.15" stroke="#111111" stroke-width="0.55" fill="none" opacity="0.72"/>
<path d="M125.80,219.75V225.11M125.10,219.75H126.50M125.10,225.11H126.50" stroke="#111111" stroke-width="0.55" fill="none" opacity="0.72"/>
<path d="M128.15,218.37V223.08M127.45,218.37H128.85M127.45,223.08H128.85" stroke="#111111" stroke-width="0.55" fill="none" opacity="0.72"/>
<path d="M130.50,216.52V221.67M129.80,216.52H131.20M129.80,221.67H131.20" stroke="#111111" stroke-width="0.55" fill="none" opacity="0.72"/>
<path d="M132.85,217.68V221.91M132.15,217.68H133.55M132.15,221.91H133.55" stroke="#111111" stroke-width="0.55" fill="none" opacity="0.72"/>
<path d="M135.20,216.96V220.71M134.50,216.96H135.90M134.50,220.71H135.90" stroke="#111111" stroke-width="0.55" fill="none" opacity="0.72"/>
<path d="M137.55,214.31V220.65M136.85,214.31H138.25M136.85,220.65H138.25" stroke="#111111" stroke-width="0.55" fill="none" opacity="0.72"/>
<path d="M139.90,214.00V218.37M139.20,214.00H140.60M139.20,218.37H140.60" stroke="#111111" stroke-width="0.55" fill="none" opacity="0.72"/>
<path d="M142.25,211.17V217.25M141.55,211.17H142.95M141.55,217.25H142.95" stroke="#111111" stroke-width="0.55" fill="none" opacity="0.72"/>
<path d="M144.60,210.89V215.18M143.90,210.89H145.30M143.90,215.18H145.30" stroke="#111111" stroke-width="0.55" fill="none" opacity="0.72"/>
<path d="M48.25,212.68 L50.60,219.36 L52.95,226.39 L55.30,230.34 L57.65,234.85 L60.00,238.73 L62.35,239.01 L64.70,241.28 L67.05,243.09 L69.40,244.66 L71.75,243.64 L74.10,244.99 L76.45,244.75 L78.80,246.93 L81.15,246.70 L83.50,245.01 L85.85,247.45 L88.20,243.54 L90.55,245.40 L92.90,244.30 L95.25,242.11 L97.60,240.49 L99.95,240.57 L102.30,237.90 L104.65,236.79 L107.00,235.44 L109.35,233.33 L111.70,232.91 L114.05,231.29 L116.40,230.78 L118.75,228.01 L121.10,226.26 L123.45,223.84 L125.80,222.43 L128.15,220.73 L130.50,219.09 L132.85,219.79 L135.20,218.84 L137.55,217.48 L139.90,216.18 L142.25,214.21 L144.60,213.04" stroke="#111111" stroke-width="0.8" fill="none"/>
<circle cx="48.25" cy="212.68" r="0.9" fill="#111111"/>
<circle cx="50.60" cy="219.36" r="0.9" fill="#111111"/>
<circle cx="52.95" cy="226.39" r="0.9" fill="#111111"/>
<circle cx="55.30" cy="230.34" r="0.9" fill="#111111"/>
<circle cx="57.65" cy="234.85" r="0.9" fill="#111111"/>
<circle cx="60.00" cy="238.73" r="0.9" fill="#111111"/>
<circle cx="62.35" cy="239.01" r="0.9" fill="#111111"/>
<circle cx="64.70" cy="241.28" r="0.9" fill="#111111"/>
<circle cx="67.05" cy="243.09" r="0.9" fill="#111111"/>
<circle cx="69.40" cy="244.66" r="0.9" fill="#111111"/>
<circle cx="71.75" cy="243.64" r="0.9" fill="#111111"/>
<circle cx="74.10" cy="244.99" r="0.9" fill="#111111"/>
<circle cx="76.45" cy="244.75" r="0.9" fill="#111111"/>
<circle cx="78.80" cy="246.93" r="0.9" fill="#111111"/>
<circle cx="81.15" cy="246.70" r="0.9" fill="#111111"/>
<circle cx="83.50" cy="245.01" r="0.9" fill="#111111"/>
<circle cx="85.85" cy="247.45" r="0.9" fill="#111111"/>
<circle cx="88.20" cy="243.54" r="0.9" fill="#111111"/>
<circle cx="90.55" cy="245.40" r="0.9" fill="#111111"/>
<circle cx="92.90" cy="244.30" r="0.9" fill="#111111"/>
<circle cx="95.25" cy="242.11" r="0.9" fill="#111111"/>
<circle cx="97.60" cy="240.49" r="0.9" fill="#111111"/>
<circle cx="99.95" cy="240.57" r="0.9" fill="#111111"/>
<circle cx="102.30" cy="237.90" r="0.9" fill="#111111"/>
<circle cx="104.65" cy="236.79" r="0.9" fill="#111111"/>
<circle cx="107.00" cy="235.44" r="0.9" fill="#111111"/>
<circle cx="109.35" cy="233.33" r="0.9" fill="#111111"/>
<circle cx="111.70" cy="232.91" r="0.9" fill="#111111"/>
<circle cx="114.05" cy="231.29" r="0.9" fill="#111111"/>
<circle cx="116.40" cy="230.78" r="0.9" fill="#111111"/>
<circle cx="118.75" cy="228.01" r="0.9" fill="#111111"/>
<circle cx="121.10" cy="226.26" r="0.9" fill="#111111"/>
<circle cx="123.45" cy="223.84" r="0.9" fill="#111111"/>
<circle cx="125.80" cy="222.43" r="0.9" fill="#111111"/>
<circle cx="128.15" cy="220.73" r="0.9" fill="#111111"/>
<circle cx="130.50" cy="219.09" r="0.9" fill="#111111"/>
<circle cx="132.85" cy="219.79" r="0.9" fill="#111111"/>
<circle cx="135.20" cy="218.84" r="0.9" fill="#111111"/>
<circle cx="137.55" cy="217.48" r="0.9" fill="#111111"/>
<circle cx="139.90" cy="216.18" r="0.9" fill="#111111"/>
<circle cx="142.25" cy="214.21" r="0.9" fill="#111111"/>
<circle cx="144.60" cy="213.04" r="0.9" fill="#111111"/>
<path d="M48.25,224.60V234.29M47.55,224.60H48.95M47.55,234.29H48.95" stroke="#1aa64a" stroke-width="0.55" fill="none" opacity="0.72"/>
<path d="M50.60,234.80V240.76M49.90,234.80H51.30M49.90,240.76H51.30" stroke="#1aa64a" stroke-width="0.55" fill="none" opacity="0.72"/>
<path d="M52.95,241.27V246.69M52.25,241.27H53.65M52.25,246.69H53.65" stroke="#1aa64a" stroke-width="0.55" fill="none" opacity="0.72"/>
<path d="M55.30,242.25V252.13M54.60,242.25H56.00M54.60,252.13H56.00" stroke="#1aa64a" stroke-width="0.55" fill="none" opacity="0.72"/>
<path d="M57.65,247.58V253.74M56.95,247.58H58.35M56.95,253.74H58.35" stroke="#1aa64a" stroke-width="0.55" fill="none" opacity="0.72"/>
<path d="M60.00,252.29V258.16M59.30,252.29H60.70M59.30,258.16H60.70" stroke="#1aa64a" stroke-width="0.55" fill="none" opacity="0.72"/>
<path d="M62.35,252.92V261.21M61.65,252.92H63.05M61.65,261.21H63.05" stroke="#1aa64a" stroke-width="0.55" fill="none" opacity="0.72"/>
<path d="M64.70,256.87V263.76M64.00,256.87H65.40M64.00,263.76H65.40" stroke="#1aa64a" stroke-width="0.55" fill="none" opacity="0.72"/>
<path d="M67.05,257.43V266.81M66.35,257.43H67.75M66.35,266.81H67.75" stroke="#1aa64a" stroke-width="0.55" fill="none" opacity="0.72"/>
<path d="M69.40,259.60V265.98M68.70,259.60H70.10M68.70,265.98H70.10" stroke="#1aa64a" stroke-width="0.55" fill="none" opacity="0.72"/>
<path d="M71.75,258.71V268.41M71.05,258.71H72.45M71.05,268.41H72.45" stroke="#1aa64a" stroke-width="0.55" fill="none" opacity="0.72"/>
<path d="M74.10,261.27V268.04M73.40,261.27H74.80M73.40,268.04H74.80" stroke="#1aa64a" stroke-width="0.55" fill="none" opacity="0.72"/>
<path d="M76.45,260.39V268.45M75.75,260.39H77.15M75.75,268.45H77.15" stroke="#1aa64a" stroke-width="0.55" fill="none" opacity="0.72"/>
<path d="M78.80,261.18V270.75M78.10,261.18H79.50M78.10,270.75H79.50" stroke="#1aa64a" stroke-width="0.55" fill="none" opacity="0.72"/>
<path d="M81.15,262.03V270.48M80.45,262.03H81.85M80.45,270.48H81.85" stroke="#1aa64a" stroke-width="0.55" fill="none" opacity="0.72"/>
<path d="M83.50,263.04V272.57M82.80,263.04H84.20M82.80,272.57H84.20" stroke="#1aa64a" stroke-width="0.55" fill="none" opacity="0.72"/>
<path d="M85.85,260.11V268.66M85.15,260.11H86.55M85.15,268.66H86.55" stroke="#1aa64a" stroke-width="0.55" fill="none" opacity="0.72"/>
<path d="M88.20,261.73V267.27M87.50,261.73H88.90M87.50,267.27H88.90" stroke="#1aa64a" stroke-width="0.55" fill="none" opacity="0.72"/>
<path d="M90.55,259.75V269.09M89.85,259.75H91.25M89.85,269.09H91.25" stroke="#1aa64a" stroke-width="0.55" fill="none" opacity="0.72"/>
<path d="M92.90,263.32V271.33M92.20,263.32H93.60M92.20,271.33H93.60" stroke="#1aa64a" stroke-width="0.55" fill="none" opacity="0.72"/>
<path d="M95.25,262.13V268.86M94.55,262.13H95.95M94.55,268.86H95.95" stroke="#1aa64a" stroke-width="0.55" fill="none" opacity="0.72"/>
<path d="M97.60,260.62V266.81M96.90,260.62H98.30M96.90,266.81H98.30" stroke="#1aa64a" stroke-width="0.55" fill="none" opacity="0.72"/>
<path d="M99.95,258.16V267.35M99.25,258.16H100.65M99.25,267.35H100.65" stroke="#1aa64a" stroke-width="0.55" fill="none" opacity="0.72"/>
<path d="M102.30,255.46V263.44M101.60,255.46H103.00M101.60,263.44H103.00" stroke="#1aa64a" stroke-width="0.55" fill="none" opacity="0.72"/>
<path d="M104.65,253.25V262.85M103.95,253.25H105.35M103.95,262.85H105.35" stroke="#1aa64a" stroke-width="0.55" fill="none" opacity="0.72"/>
<path d="M107.00,253.98V262.83M106.30,253.98H107.70M106.30,262.83H107.70" stroke="#1aa64a" stroke-width="0.55" fill="none" opacity="0.72"/>
<path d="M109.35,251.01V260.71M108.65,251.01H110.05M108.65,260.71H110.05" stroke="#1aa64a" stroke-width="0.55" fill="none" opacity="0.72"/>
<path d="M111.70,249.34V257.24M111.00,249.34H112.40M111.00,257.24H112.40" stroke="#1aa64a" stroke-width="0.55" fill="none" opacity="0.72"/>
<path d="M114.05,249.36V257.86M113.35,249.36H114.75M113.35,257.86H114.75" stroke="#1aa64a" stroke-width="0.55" fill="none" opacity="0.72"/>
<path d="M116.40,248.80V256.91M115.70,248.80H117.10M115.70,256.91H117.10" stroke="#1aa64a" stroke-width="0.55" fill="none" opacity="0.72"/>
<path d="M118.75,250.06V256.55M118.05,250.06H119.45M118.05,256.55H119.45" stroke="#1aa64a" stroke-width="0.55" fill="none" opacity="0.72"/>
<path d="M121.10,248.03V257.72M120.40,248.03H121.80M120.40,257.72H121.80" stroke="#1aa64a" stroke-width="0.55" fill="none" opacity="0.72"/>
<path d="M123.45,244.35V251.10M122.75,244.35H124.15M122.75,251.10H124.15" stroke="#1aa64a" stroke-width="0.55" fill="none" opacity="0.72"/>
<path d="M125.80,242.16V251.05M125.10,242.16H126.50M125.10,251.05H126.50" stroke="#1aa64a" stroke-width="0.55" fill="none" opacity="0.72"/>
<path d="M128.15,241.94V251.61M127.45,241.94H128.85M127.45,251.61H128.85" stroke="#1aa64a" stroke-width="0.55" fill="none" opacity="0.72"/>
<path d="M130.50,241.12V249.40M129.80,241.12H131.20M129.80,249.40H131.20" stroke="#1aa64a" stroke-width="0.55" fill="none" opacity="0.72"/>
<path d="M132.85,241.52V247.49M132.15,241.52H133.55M132.15,247.49H133.55" stroke="#1aa64a" stroke-width="0.55" fill="none" opacity="0.72"/>
<path d="M135.20,236.62V245.70M134.50,236.62H135.90M134.50,245.70H135.90" stroke="#1aa64a" stroke-width="0.55" fill="none" opacity="0.72"/>
<path d="M137.55,235.69V244.06M136.85,235.69H138.25M136.85,244.06H138.25" stroke="#1aa64a" stroke-width="0.55" fill="none" opacity="0.72"/>
<path d="M139.90,237.81V243.98M139.20,237.81H140.60M139.20,243.98H140.60" stroke="#1aa64a" stroke-width="0.55" fill="none" opacity="0.72"/>
<path d="M142.25,236.81V242.35M141.55,236.81H142.95M141.55,242.35H142.95" stroke="#1aa64a" stroke-width="0.55" fill="none" opacity="0.72"/>
<path d="M144.60,235.35V243.09M143.90,235.35H145.30M143.90,243.09H145.30" stroke="#1aa64a" stroke-width="0.55" fill="none" opacity="0.72"/>
<path d="M48.25,229.44 L50.60,237.78 L52.95,243.98 L55.30,247.19 L57.65,250.66 L60.00,255.22 L62.35,257.07 L64.70,260.32 L67.05,262.12 L69.40,262.79 L71.75,263.56 L74.10,264.65 L76.45,264.42 L78.80,265.97 L81.15,266.26 L83.50,267.80 L85.85,264.38 L88.20,264.50 L90.55,264.42 L92.90,267.32 L95.25,265.50 L97.60,263.72 L99.95,262.75 L102.30,259.45 L104.65,258.05 L107.00,258.40 L109.35,255.86 L111.70,253.29 L114.05,253.61 L116.40,252.85 L118.75,253.30 L121.10,252.87 L123.45,247.73 L125.80,246.61 L128.15,246.78 L130.50,245.26 L132.85,244.51 L135.20,241.16 L137.55,239.88 L139.90,240.89 L142.25,239.58 L144.60,239.22" stroke="#1aa64a" stroke-width="0.85" fill="none"/>
<circle cx="48.25" cy="229.44" r="0.9" fill="#1aa64a"/>
<circle cx="50.60" cy="237.78" r="0.9" fill="#1aa64a"/>
<circle cx="52.95" cy="243.98" r="0.9" fill="#1aa64a"/>
<circle cx="55.30" cy="247.19" r="0.9" fill="#1aa64a"/>
<circle cx="57.65" cy="250.66" r="0.9" fill="#1aa64a"/>
<circle cx="60.00" cy="255.22" r="0.9" fill="#1aa64a"/>
<circle cx="62.35" cy="257.07" r="0.9" fill="#1aa64a"/>
<circle cx="64.70" cy="260.32" r="0.9" fill="#1aa64a"/>
<circle cx="67.05" cy="262.12" r="0.9" fill="#1aa64a"/>
<circle cx="69.40" cy="262.79" r="0.9" fill="#1aa64a"/>
<circle cx="71.75" cy="263.56" r="0.9" fill="#1aa64a"/>
<circle cx="74.10" cy="264.65" r="0.9" fill="#1aa64a"/>
<circle cx="76.45" cy="264.42" r="0.9" fill="#1aa64a"/>
<circle cx="78.80" cy="265.97" r="0.9" fill="#1aa64a"/>
<circle cx="81.15" cy="266.26" r="0.9" fill="#1aa64a"/>
<circle cx="83.50" cy="267.80" r="0.9" fill="#1aa64a"/>
<circle cx="85.85" cy="264.38" r="0.9" fill="#1aa64a"/>
<circle cx="88.20" cy="264.50" r="0.9" fill="#1aa64a"/>
<circle cx="90.55" cy="264.42" r="0.9" fill="#1aa64a"/>
<circle cx="92.90" cy="267.32" r="0.9" fill="#1aa64a"/>
<circle cx="95.25" cy="265.50" r="0.9" fill="#1aa64a"/>
<circle cx="97.60" cy="263.72" r="0.9" fill="#1aa64a"/>
<circle cx="99.95" cy="262.75" r="0.9" fill="#1aa64a"/>
<circle cx="102.30" cy="259.45" r="0.9" fill="#1aa64a"/>
<circle cx="104.65" cy="258.05" r="0.9" fill="#1aa64a"/>
<circle cx="107.00" cy="258.40" r="0.9" fill="#1aa64a"/>
<circle cx="109.35" cy="255.86" r="0.9" fill="#1aa64a"/>
<circle cx="111.70" cy="253.29" r="0.9" fill="#1aa64a"/>
<circle cx="114.05" cy="253.61" r="0.9" fill="#1aa64a"/>
<circle cx="116.40" cy="252.85" r="0.9" fill="#1aa64a"/>
<circle cx="118.75" cy="253.30" r="0.9" fill="#1aa64a"/>
<circle cx="121.10" cy="252.87" r="0.9" fill="#1aa64a"/>
<circle cx="123.45" cy="247.73" r="0.9" fill="#1aa64a"/>
<circle cx="125.80" cy="246.61" r="0.9" fill="#1aa64a"/>
<circle cx="128.15" cy="246.78" r="0.9" fill="#1aa64a"/>
<circle cx="130.50" cy="245.26" r="0.9" fill="#1aa64a"/>
<circle cx="132.85" cy="244.51" r="0.9" fill="#1aa64a"/>
<circle cx="135.20" cy="241.16" r="0.9" fill="#1aa64a"/>
<circle cx="137.55" cy="239.88" r="0.9" fill="#1aa64a"/>
<circle cx="139.90" cy="240.89" r="0.9" fill="#1aa64a"/>
<circle cx="142.25" cy="239.58" r="0.9" fill="#1aa64a"/>
<circle cx="144.60" cy="239.22" r="0.9" fill="#1aa64a"/>
<path d="M48.25,216.30V223.33M47.55,216.30H48.95M47.55,223.33H48.95" stroke="#6cc6f0" stroke-width="0.55" fill="none" opacity="0.72"/>
<path d="M50.60,224.18V231.29M49.90,224.18H51.30M49.90,231.29H51.30" stroke="#6cc6f0" stroke-width="0.55" fill="none" opacity="0.72"/>
<path d="M52.95,230.31V237.23M52.25,230.31H53.65M52.25,237.23H53.65" stroke="#6cc6f0" stroke-width="0.55" fill="none" opacity="0.72"/>
<path d="M55.30,236.87V241.08M54.60,236.87H56.00M54.60,241.08H56.00" stroke="#6cc6f0" stroke-width="0.55" fill="none" opacity="0.72"/>
<path d="M57.65,238.45V244.36M56.95,238.45H58.35M56.95,244.36H58.35" stroke="#6cc6f0" stroke-width="0.55" fill="none" opacity="0.72"/>
<path d="M60.00,242.59V247.93M59.30,242.59H60.70M59.30,247.93H60.70" stroke="#6cc6f0" stroke-width="0.55" fill="none" opacity="0.72"/>
<path d="M62.35,244.48V250.18M61.65,244.48H63.05M61.65,250.18H63.05" stroke="#6cc6f0" stroke-width="0.55" fill="none" opacity="0.72"/>
<path d="M64.70,247.54V251.90M64.00,247.54H65.40M64.00,251.90H65.40" stroke="#6cc6f0" stroke-width="0.55" fill="none" opacity="0.72"/>
<path d="M67.05,250.69V255.25M66.35,250.69H67.75M66.35,255.25H67.75" stroke="#6cc6f0" stroke-width="0.55" fill="none" opacity="0.72"/>
<path d="M69.40,250.82V256.23M68.70,250.82H70.10M68.70,256.23H70.10" stroke="#6cc6f0" stroke-width="0.55" fill="none" opacity="0.72"/>
<path d="M71.75,253.76V258.43M71.05,253.76H72.45M71.05,258.43H72.45" stroke="#6cc6f0" stroke-width="0.55" fill="none" opacity="0.72"/>
<path d="M74.10,254.50V259.95M73.40,254.50H74.80M73.40,259.95H74.80" stroke="#6cc6f0" stroke-width="0.55" fill="none" opacity="0.72"/>
<path d="M76.45,257.12V261.12M75.75,257.12H77.15M75.75,261.12H77.15" stroke="#6cc6f0" stroke-width="0.55" fill="none" opacity="0.72"/>
<path d="M78.80,259.03V263.23M78.10,259.03H79.50M78.10,263.23H79.50" stroke="#6cc6f0" stroke-width="0.55" fill="none" opacity="0.72"/>
<path d="M81.15,260.52V266.83M80.45,260.52H81.85M80.45,266.83H81.85" stroke="#6cc6f0" stroke-width="0.55" fill="none" opacity="0.72"/>
<path d="M83.50,262.32V267.66M82.80,262.32H84.20M82.80,267.66H84.20" stroke="#6cc6f0" stroke-width="0.55" fill="none" opacity="0.72"/>
<path d="M85.85,262.86V268.51M85.15,262.86H86.55M85.15,268.51H86.55" stroke="#6cc6f0" stroke-width="0.55" fill="none" opacity="0.72"/>
<path d="M88.20,265.24V271.63M87.50,265.24H88.90M87.50,271.63H88.90" stroke="#6cc6f0" stroke-width="0.55" fill="none" opacity="0.72"/>
<path d="M90.55,267.03V272.16M89.85,267.03H91.25M89.85,272.16H91.25" stroke="#6cc6f0" stroke-width="0.55" fill="none" opacity="0.72"/>
<path d="M92.90,269.59V273.70M92.20,269.59H93.60M92.20,273.70H93.60" stroke="#6cc6f0" stroke-width="0.55" fill="none" opacity="0.72"/>
<path d="M95.25,268.84V275.40M94.55,268.84H95.95M94.55,275.40H95.95" stroke="#6cc6f0" stroke-width="0.55" fill="none" opacity="0.72"/>
<path d="M97.60,269.10V275.00M96.90,269.10H98.30M96.90,275.00H98.30" stroke="#6cc6f0" stroke-width="0.55" fill="none" opacity="0.72"/>
<path d="M99.95,268.96V275.09M99.25,268.96H100.65M99.25,275.09H100.65" stroke="#6cc6f0" stroke-width="0.55" fill="none" opacity="0.72"/>
<path d="M102.30,268.80V274.80M101.60,268.80H103.00M101.60,274.80H103.00" stroke="#6cc6f0" stroke-width="0.55" fill="none" opacity="0.72"/>
<path d="M104.65,268.56V275.74M103.95,268.56H105.35M103.95,275.74H105.35" stroke="#6cc6f0" stroke-width="0.55" fill="none" opacity="0.72"/>
<path d="M107.00,269.03V274.17M106.30,269.03H107.70M106.30,274.17H107.70" stroke="#6cc6f0" stroke-width="0.55" fill="none" opacity="0.72"/>
<path d="M109.35,266.53V273.01M108.65,266.53H110.05M108.65,273.01H110.05" stroke="#6cc6f0" stroke-width="0.55" fill="none" opacity="0.72"/>
<path d="M111.70,267.62V272.78M111.00,267.62H112.40M111.00,272.78H112.40" stroke="#6cc6f0" stroke-width="0.55" fill="none" opacity="0.72"/>
<path d="M114.05,266.33V272.17M113.35,266.33H114.75M113.35,272.17H114.75" stroke="#6cc6f0" stroke-width="0.55" fill="none" opacity="0.72"/>
<path d="M116.40,266.50V272.64M115.70,266.50H117.10M115.70,272.64H117.10" stroke="#6cc6f0" stroke-width="0.55" fill="none" opacity="0.72"/>
<path d="M118.75,266.47V271.45M118.05,266.47H119.45M118.05,271.45H119.45" stroke="#6cc6f0" stroke-width="0.55" fill="none" opacity="0.72"/>
<path d="M121.10,266.37V270.57M120.40,266.37H121.80M120.40,270.57H121.80" stroke="#6cc6f0" stroke-width="0.55" fill="none" opacity="0.72"/>
<path d="M123.45,265.18V270.70M122.75,265.18H124.15M122.75,270.70H124.15" stroke="#6cc6f0" stroke-width="0.55" fill="none" opacity="0.72"/>
<path d="M125.80,264.33V270.66M125.10,264.33H126.50M125.10,270.66H126.50" stroke="#6cc6f0" stroke-width="0.55" fill="none" opacity="0.72"/>
<path d="M128.15,263.73V269.64M127.45,263.73H128.85M127.45,269.64H128.85" stroke="#6cc6f0" stroke-width="0.55" fill="none" opacity="0.72"/>
<path d="M130.50,263.00V268.42M129.80,263.00H131.20M129.80,268.42H131.20" stroke="#6cc6f0" stroke-width="0.55" fill="none" opacity="0.72"/>
<path d="M132.85,263.50V269.58M132.15,263.50H133.55M132.15,269.58H133.55" stroke="#6cc6f0" stroke-width="0.55" fill="none" opacity="0.72"/>
<path d="M135.20,263.66V268.20M134.50,263.66H135.90M134.50,268.20H135.90" stroke="#6cc6f0" stroke-width="0.55" fill="none" opacity="0.72"/>
<path d="M137.55,263.48V268.00M136.85,263.48H138.25M136.85,268.00H138.25" stroke="#6cc6f0" stroke-width="0.55" fill="none" opacity="0.72"/>
<path d="M139.90,262.08V267.09M139.20,262.08H140.60M139.20,267.09H140.60" stroke="#6cc6f0" stroke-width="0.55" fill="none" opacity="0.72"/>
<path d="M142.25,260.41V267.07M141.55,260.41H142.95M141.55,267.07H142.95" stroke="#6cc6f0" stroke-width="0.55" fill="none" opacity="0.72"/>
<path d="M144.60,261.27V265.85M143.90,261.27H145.30M143.90,265.85H145.30" stroke="#6cc6f0" stroke-width="0.55" fill="none" opacity="0.72"/>
<path d="M48.25,219.82 L50.60,227.74 L52.95,233.77 L55.30,238.97 L57.65,241.41 L60.00,245.26 L62.35,247.33 L64.70,249.72 L67.05,252.97 L69.40,253.53 L71.75,256.10 L74.10,257.23 L76.45,259.12 L78.80,261.13 L81.15,263.68 L83.50,264.99 L85.85,265.69 L88.20,268.44 L90.55,269.59 L92.90,271.64 L95.25,272.12 L97.60,272.05 L99.95,272.03 L102.30,271.80 L104.65,272.15 L107.00,271.60 L109.35,269.77 L111.70,270.20 L114.05,269.25 L116.40,269.57 L118.75,268.96 L121.10,268.47 L123.45,267.94 L125.80,267.49 L128.15,266.68 L130.50,265.71 L132.85,266.54 L135.20,265.93 L137.55,265.74 L139.90,264.58 L142.25,263.74 L144.60,263.56" stroke="#6cc6f0" stroke-width="0.85" fill="none"/>
<circle cx="48.25" cy="219.82" r="0.9" fill="#6cc6f0"/>
<circle cx="50.60" cy="227.74" r="0.9" fill="#6cc6f0"/>
<circle cx="52.95" cy="233.77" r="0.9" fill="#6cc6f0"/>
<circle cx="55.30" cy="238.97" r="0.9" fill="#6cc6f0"/>
<circle cx="57.65" cy="241.41" r="0.9" fill="#6cc6f0"/>
<circle cx="60.00" cy="245.26" r="0.9" fill="#6cc6f0"/>
<circle cx="62.35" cy="247.33" r="0.9" fill="#6cc6f0"/>
<circle cx="64.70" cy="249.72" r="0.9" fill="#6cc6f0"/>
<circle cx="67.05" cy="252.97" r="0.9" fill="#6cc6f0"/>
<circle cx="69.40" cy="253.53" r="0.9" fill="#6cc6f0"/>
<circle cx="71.75" cy="256.10" r="0.9" fill="#6cc6f0"/>
<circle cx="74.10" cy="257.23" r="0.9" fill="#6cc6f0"/>
<circle cx="76.45" cy="259.12" r="0.9" fill="#6cc6f0"/>
<circle cx="78.80" cy="261.13" r="0.9" fill="#6cc6f0"/>
<circle cx="81.15" cy="263.68" r="0.9" fill="#6cc6f0"/>
<circle cx="83.50" cy="264.99" r="0.9" fill="#6cc6f0"/>
<circle cx="85.85" cy="265.69" r="0.9" fill="#6cc6f0"/>
<circle cx="88.20" cy="268.44" r="0.9" fill="#6cc6f0"/>
<circle cx="90.55" cy="269.59" r="0.9" fill="#6cc6f0"/>
<circle cx="92.90" cy="271.64" r="0.9" fill="#6cc6f0"/>
<circle cx="95.25" cy="272.12" r="0.9" fill="#6cc6f0"/>
<circle cx="97.60" cy="272.05" r="0.9" fill="#6cc6f0"/>
<circle cx="99.95" cy="272.03" r="0.9" fill="#6cc6f0"/>
<circle cx="102.30" cy="271.80" r="0.9" fill="#6cc6f0"/>
<circle cx="104.65" cy="272.15" r="0.9" fill="#6cc6f0"/>
<circle cx="107.00" cy="271.60" r="0.9" fill="#6cc6f0"/>
<circle cx="109.35" cy="269.77" r="0.9" fill="#6cc6f0"/>
<circle cx="111.70" cy="270.20" r="0.9" fill="#6cc6f0"/>
<circle cx="114.05" cy="269.25" r="0.9" fill="#6cc6f0"/>
<circle cx="116.40" cy="269.57" r="0.9" fill="#6cc6f0"/>
<circle cx="118.75" cy="268.96" r="0.9" fill="#6cc6f0"/>
<circle cx="121.10" cy="268.47" r="0.9" fill="#6cc6f0"/>
<circle cx="123.45" cy="267.94" r="0.9" fill="#6cc6f0"/>
<circle cx="125.80" cy="267.49" r="0.9" fill="#6cc6f0"/>
<circle cx="128.15" cy="266.68" r="0.9" fill="#6cc6f0"/>
<circle cx="130.50" cy="265.71" r="0.9" fill="#6cc6f0"/>
<circle cx="132.85" cy="266.54" r="0.9" fill="#6cc6f0"/>
<circle cx="135.20" cy="265.93" r="0.9" fill="#6cc6f0"/>
<circle cx="137.55" cy="265.74" r="0.9" fill="#6cc6f0"/>
<circle cx="139.90" cy="264.58" r="0.9" fill="#6cc6f0"/>
<circle cx="142.25" cy="263.74" r="0.9" fill="#6cc6f0"/>
<circle cx="144.60" cy="263.56" r="0.9" fill="#6cc6f0"/>
<path d="M48.25,217.94V228.31M47.55,217.94H48.95M47.55,228.31H48.95" stroke="#f6c244" stroke-width="0.55" fill="none" opacity="0.72"/>
<path d="M50.60,227.57V238.65M49.90,227.57H51.30M49.90,238.65H51.30" stroke="#f6c244" stroke-width="0.55" fill="none" opacity="0.72"/>
<path d="M52.95,236.16V243.61M52.25,236.16H53.65M52.25,243.61H53.65" stroke="#f6c244" stroke-width="0.55" fill="none" opacity="0.72"/>
<path d="M55.30,241.17V253.12M54.60,241.17H56.00M54.60,253.12H56.00" stroke="#f6c244" stroke-width="0.55" fill="none" opacity="0.72"/>
<path d="M57.65,244.57V252.08M56.95,244.57H58.35M56.95,252.08H58.35" stroke="#f6c244" stroke-width="0.55" fill="none" opacity="0.72"/>
<path d="M60.00,247.38V257.53M59.30,247.38H60.70M59.30,257.53H60.70" stroke="#f6c244" stroke-width="0.55" fill="none" opacity="0.72"/>
<path d="M62.35,255.21V262.15M61.65,255.21H63.05M61.65,262.15H63.05" stroke="#f6c244" stroke-width="0.55" fill="none" opacity="0.72"/>
<path d="M64.70,257.29V267.91M64.00,257.29H65.40M64.00,267.91H65.40" stroke="#f6c244" stroke-width="0.55" fill="none" opacity="0.72"/>
<path d="M67.05,261.67V268.95M66.35,261.67H67.75M66.35,268.95H67.75" stroke="#f6c244" stroke-width="0.55" fill="none" opacity="0.72"/>
<path d="M69.40,262.82V273.16M68.70,262.82H70.10M68.70,273.16H70.10" stroke="#f6c244" stroke-width="0.55" fill="none" opacity="0.72"/>
<path d="M71.75,262.78V273.22M71.05,262.78H72.45M71.05,273.22H72.45" stroke="#f6c244" stroke-width="0.55" fill="none" opacity="0.72"/>
<path d="M74.10,264.78V275.44M73.40,264.78H74.80M73.40,275.44H74.80" stroke="#f6c244" stroke-width="0.55" fill="none" opacity="0.72"/>
<path d="M76.45,263.44V272.31M75.75,263.44H77.15M75.75,272.31H77.15" stroke="#f6c244" stroke-width="0.55" fill="none" opacity="0.72"/>
<path d="M78.80,263.28V274.50M78.10,263.28H79.50M78.10,274.50H79.50" stroke="#f6c244" stroke-width="0.55" fill="none" opacity="0.72"/>
<path d="M81.15,266.46V278.35M80.45,266.46H81.85M80.45,278.35H81.85" stroke="#f6c244" stroke-width="0.55" fill="none" opacity="0.72"/>
<path d="M83.50,268.38V275.45M82.80,268.38H84.20M82.80,275.45H84.20" stroke="#f6c244" stroke-width="0.55" fill="none" opacity="0.72"/>
<path d="M85.85,271.21V280.50M85.15,271.21H86.55M85.15,280.50H86.55" stroke="#f6c244" stroke-width="0.55" fill="none" opacity="0.72"/>
<path d="M88.20,274.37V286.10M87.50,274.37H88.90M87.50,286.10H88.90" stroke="#f6c244" stroke-width="0.55" fill="none" opacity="0.72"/>
<path d="M90.55,275.77V286.29M89.85,275.77H91.25M89.85,286.29H91.25" stroke="#f6c244" stroke-width="0.55" fill="none" opacity="0.72"/>
<path d="M92.90,276.85V285.74M92.20,276.85H93.60M92.20,285.74H93.60" stroke="#f6c244" stroke-width="0.55" fill="none" opacity="0.72"/>
<path d="M95.25,281.04V289.17M94.55,281.04H95.95M94.55,289.17H95.95" stroke="#f6c244" stroke-width="0.55" fill="none" opacity="0.72"/>
<path d="M97.60,275.31V287.01M96.90,275.31H98.30M96.90,287.01H98.30" stroke="#f6c244" stroke-width="0.55" fill="none" opacity="0.72"/>
<path d="M99.95,280.97V287.88M99.25,280.97H100.65M99.25,287.88H100.65" stroke="#f6c244" stroke-width="0.55" fill="none" opacity="0.72"/>
<path d="M102.30,283.87V294.51M101.60,283.87H103.00M101.60,294.51H103.00" stroke="#f6c244" stroke-width="0.55" fill="none" opacity="0.72"/>
<path d="M104.65,281.90V293.00M103.95,281.90H105.35M103.95,293.00H105.35" stroke="#f6c244" stroke-width="0.55" fill="none" opacity="0.72"/>
<path d="M107.00,285.02V292.33M106.30,285.02H107.70M106.30,292.33H107.70" stroke="#f6c244" stroke-width="0.55" fill="none" opacity="0.72"/>
<path d="M109.35,283.91V292.15M108.65,283.91H110.05M108.65,292.15H110.05" stroke="#f6c244" stroke-width="0.55" fill="none" opacity="0.72"/>
<path d="M111.70,283.22V291.35M111.00,283.22H112.40M111.00,291.35H112.40" stroke="#f6c244" stroke-width="0.55" fill="none" opacity="0.72"/>
<path d="M114.05,284.43V293.87M113.35,284.43H114.75M113.35,293.87H114.75" stroke="#f6c244" stroke-width="0.55" fill="none" opacity="0.72"/>
<path d="M116.40,281.39V289.86M115.70,281.39H117.10M115.70,289.86H117.10" stroke="#f6c244" stroke-width="0.55" fill="none" opacity="0.72"/>
<path d="M118.75,281.42V292.79M118.05,281.42H119.45M118.05,292.79H119.45" stroke="#f6c244" stroke-width="0.55" fill="none" opacity="0.72"/>
<path d="M121.10,278.38V289.93M120.40,278.38H121.80M120.40,289.93H121.80" stroke="#f6c244" stroke-width="0.55" fill="none" opacity="0.72"/>
<path d="M123.45,279.99V288.18M122.75,279.99H124.15M122.75,288.18H124.15" stroke="#f6c244" stroke-width="0.55" fill="none" opacity="0.72"/>
<path d="M125.80,278.90V290.28M125.10,278.90H126.50M125.10,290.28H126.50" stroke="#f6c244" stroke-width="0.55" fill="none" opacity="0.72"/>
<path d="M128.15,280.44V287.26M127.45,280.44H128.85M127.45,287.26H128.85" stroke="#f6c244" stroke-width="0.55" fill="none" opacity="0.72"/>
<path d="M130.50,278.06V285.03M129.80,278.06H131.20M129.80,285.03H131.20" stroke="#f6c244" stroke-width="0.55" fill="none" opacity="0.72"/>
<path d="M132.85,278.40V288.51M132.15,278.40H133.55M132.15,288.51H133.55" stroke="#f6c244" stroke-width="0.55" fill="none" opacity="0.72"/>
<path d="M135.20,277.99V288.84M134.50,277.99H135.90M134.50,288.84H135.90" stroke="#f6c244" stroke-width="0.55" fill="none" opacity="0.72"/>
<path d="M137.55,275.91V286.87M136.85,275.91H138.25M136.85,286.87H138.25" stroke="#f6c244" stroke-width="0.55" fill="none" opacity="0.72"/>
<path d="M139.90,274.87V286.79M139.20,274.87H140.60M139.20,286.79H140.60" stroke="#f6c244" stroke-width="0.55" fill="none" opacity="0.72"/>
<path d="M142.25,278.14V289.33M141.55,278.14H142.95M141.55,289.33H142.95" stroke="#f6c244" stroke-width="0.55" fill="none" opacity="0.72"/>
<path d="M144.60,278.12V286.03M143.90,278.12H145.30M143.90,286.03H145.30" stroke="#f6c244" stroke-width="0.55" fill="none" opacity="0.72"/>
<path d="M48.25,223.13 L50.60,233.11 L52.95,239.89 L55.30,247.15 L57.65,248.32 L60.00,252.46 L62.35,258.68 L64.70,262.60 L67.05,265.31 L69.40,267.99 L71.75,268.00 L74.10,270.11 L76.45,267.87 L78.80,268.89 L81.15,272.41 L83.50,271.92 L85.85,275.86 L88.20,280.23 L90.55,281.03 L92.90,281.30 L95.25,285.11 L97.60,281.16 L99.95,284.43 L102.30,289.19 L104.65,287.45 L107.00,288.68 L109.35,288.03 L111.70,287.29 L114.05,289.15 L116.40,285.62 L118.75,287.10 L121.10,284.15 L123.45,284.09 L125.80,284.59 L128.15,283.85 L130.50,281.55 L132.85,283.46 L135.20,283.42 L137.55,281.39 L139.90,280.83 L142.25,283.73 L144.60,282.07" stroke="#f6c244" stroke-width="0.75" fill="none"/>
<circle cx="48.25" cy="223.13" r="1.25" fill="#f6c244"/>
<circle cx="50.60" cy="233.11" r="1.25" fill="#f6c244"/>
<circle cx="52.95" cy="239.89" r="1.25" fill="#f6c244"/>
<circle cx="55.30" cy="247.15" r="1.25" fill="#f6c244"/>
<circle cx="57.65" cy="248.32" r="1.25" fill="#f6c244"/>
<circle cx="60.00" cy="252.46" r="1.25" fill="#f6c244"/>
<circle cx="62.35" cy="258.68" r="1.25" fill="#f6c244"/>
<circle cx="64.70" cy="262.60" r="1.25" fill="#f6c244"/>
<circle cx="67.05" cy="265.31" r="1.25" fill="#f6c244"/>
<circle cx="69.40" cy="267.99" r="1.25" fill="#f6c244"/>
<circle cx="71.75" cy="268.00" r="1.25" fill="#f6c244"/>
<circle cx="74.10" cy="270.11" r="1.25" fill="#f6c244"/>
<circle cx="76.45" cy="267.87" r="1.25" fill="#f6c244"/>
<circle cx="78.80" cy="268.89" r="1.25" fill="#f6c244"/>
<circle cx="81.15" cy="272.41" r="1.25" fill="#f6c244"/>
<circle cx="83.50" cy="271.92" r="1.25" fill="#f6c244"/>
<circle cx="85.85" cy="275.86" r="1.25" fill="#f6c244"/>
<circle cx="88.20" cy="280.23" r="1.25" fill="#f6c244"/>
<circle cx="90.55" cy="281.03" r="1.25" fill="#f6c244"/>
<circle cx="92.90" cy="281.30" r="1.25" fill="#f6c244"/>
<circle cx="95.25" cy="285.11" r="1.25" fill="#f6c244"/>
<circle cx="97.60" cy="281.16" r="1.25" fill="#f6c244"/>
<circle cx="99.95" cy="284.43" r="1.25" fill="#f6c244"/>
<circle cx="102.30" cy="289.19" r="1.25" fill="#f6c244"/>
<circle cx="104.65" cy="287.45" r="1.25" fill="#f6c244"/>
<circle cx="107.00" cy="288.68" r="1.25" fill="#f6c244"/>
<circle cx="109.35" cy="288.03" r="1.25" fill="#f6c244"/>
<circle cx="111.70" cy="287.29" r="1.25" fill="#f6c244"/>
<circle cx="114.05" cy="289.15" r="1.25" fill="#f6c244"/>
<circle cx="116.40" cy="285.62" r="1.25" fill="#f6c244"/>
<circle cx="118.75" cy="287.10" r="1.25" fill="#f6c244"/>
<circle cx="121.10" cy="284.15" r="1.25" fill="#f6c244"/>
<circle cx="123.45" cy="284.09" r="1.25" fill="#f6c244"/>
<circle cx="125.80" cy="284.59" r="1.25" fill="#f6c244"/>
<circle cx="128.15" cy="283.85" r="1.25" fill="#f6c244"/>
<circle cx="130.50" cy="281.55" r="1.25" fill="#f6c244"/>
<circle cx="132.85" cy="283.46" r="1.25" fill="#f6c244"/>
<circle cx="135.20" cy="283.42" r="1.25" fill="#f6c244"/>
<circle cx="137.55" cy="281.39" r="1.25" fill="#f6c244"/>
<circle cx="139.90" cy="280.83" r="1.25" fill="#f6c244"/>
<circle cx="142.25" cy="283.73" r="1.25" fill="#f6c244"/>
<circle cx="144.60" cy="282.07" r="1.25" fill="#f6c244"/>
<line x1="47.60" y1="293.00" x2="51.80" y2="293.00" stroke="#111111" stroke-width="0.9"/>
<circle cx="49.70" cy="293.00" r="0.8" fill="#111111"/>
<text x="56.30" y="295.45" font-size="6.85" text-anchor="start" fill="#111" >DMSO</text>
<line x1="47.60" y1="300.30" x2="51.80" y2="300.30" stroke="#1aa64a" stroke-width="0.9"/>
<circle cx="49.70" cy="300.30" r="0.8" fill="#1aa64a"/>
<text x="56.30" y="302.75" font-size="6.85" text-anchor="start" fill="#111" >Sotorasib</text>
<line x1="47.60" y1="307.60" x2="51.80" y2="307.60" stroke="#6cc6f0" stroke-width="0.9"/>
<circle cx="49.70" cy="307.60" r="0.8" fill="#6cc6f0"/>
<text x="56.30" y="310.05" font-size="6.85" text-anchor="start" fill="#111" >Azenosertib</text>
<line x1="47.60" y1="314.90" x2="51.80" y2="314.90" stroke="#f6c244" stroke-width="0.9"/>
<circle cx="49.70" cy="314.90" r="0.8" fill="#f6c244"/>
<text x="56.30" y="317.35" font-size="6.85" text-anchor="start" fill="#111" >Azenosertib + sotorasib</text>
<path d="M195.50,203.9 V320.9 H299.10" stroke="#777" stroke-width="0.85" fill="none"/>
<line x1="193.70" y1="203.90" x2="195.50" y2="203.90" stroke="#666" stroke-width="0.8"/>
<text x="192.90" y="207.10" font-size="7" text-anchor="end" fill="#222">3.2 × 10<tspan font-size="4.2" dy="-2.8">5</tspan></text>
<line x1="193.70" y1="228.25" x2="195.50" y2="228.25" stroke="#666" stroke-width="0.8"/>
<text x="192.90" y="231.45" font-size="7" text-anchor="end" fill="#222">2.7 × 10<tspan font-size="4.2" dy="-2.8">5</tspan></text>
<line x1="193.70" y1="252.60" x2="195.50" y2="252.60" stroke="#666" stroke-width="0.8"/>
<text x="192.90" y="255.80" font-size="7" text-anchor="end" fill="#222">2.2 × 10<tspan font-size="4.2" dy="-2.8">5</tspan></text>
<line x1="193.70" y1="276.95" x2="195.50" y2="276.95" stroke="#666" stroke-width="0.8"/>
<text x="192.90" y="280.15" font-size="7" text-anchor="end" fill="#222">1.7 × 10<tspan font-size="4.2" dy="-2.8">5</tspan></text>
<line x1="193.70" y1="301.30" x2="195.50" y2="301.30" stroke="#666" stroke-width="0.8"/>
<text x="192.90" y="304.50" font-size="7" text-anchor="end" fill="#222">1.2 × 10<tspan font-size="4.2" dy="-2.8">5</tspan></text>
<line x1="199.85" y1="320.9" x2="199.85" y2="322.8" stroke="#666" stroke-width="0.8"/>
<text x="199.85" y="330.00" font-size="7" text-anchor="middle" fill="#222" >0</text>
<line x1="213.95" y1="320.9" x2="213.95" y2="322.8" stroke="#666" stroke-width="0.8"/>
<text x="213.95" y="330.00" font-size="7" text-anchor="middle" fill="#222" >24</text>
<line x1="228.05" y1="320.9" x2="228.05" y2="322.8" stroke="#666" stroke-width="0.8"/>
<text x="228.05" y="330.00" font-size="7" text-anchor="middle" fill="#222" >48</text>
<line x1="242.15" y1="320.9" x2="242.15" y2="322.8" stroke="#666" stroke-width="0.8"/>
<text x="242.15" y="330.00" font-size="7" text-anchor="middle" fill="#222" >72</text>
<line x1="256.25" y1="320.9" x2="256.25" y2="322.8" stroke="#666" stroke-width="0.8"/>
<text x="256.25" y="330.00" font-size="7" text-anchor="middle" fill="#222" >96</text>
<line x1="270.35" y1="320.9" x2="270.35" y2="322.8" stroke="#666" stroke-width="0.8"/>
<text x="270.35" y="330.00" font-size="7" text-anchor="middle" fill="#222" >120</text>
<line x1="284.45" y1="320.9" x2="284.45" y2="322.8" stroke="#666" stroke-width="0.8"/>
<text x="284.45" y="330.00" font-size="7" text-anchor="middle" fill="#222" >144</text>
<line x1="298.55" y1="320.9" x2="298.55" y2="322.8" stroke="#666" stroke-width="0.8"/>
<text x="298.55" y="330.00" font-size="7" text-anchor="middle" fill="#222" >168</text>
<text x="247.00" y="338.40" font-size="6.8" text-anchor="middle" font-weight="bold" fill="#000" >Elapsed time (hours)</text>
<text x="247.00" y="203.90" font-size="6.7" text-anchor="middle" font-weight="bold" fill="#000" >NCI-H23 (3D)</text>
<text x="0" y="0" font-size="6.9" font-weight="bold" text-anchor="middle" fill="#000" transform="translate(158.20,261) rotate(-90)">Spheroid area (µm<tspan font-size="4.2" dy="-2.6">2</tspan><tspan dy="2.6">)</tspan></text>
<path d="M199.85,210.60V214.75M199.15,210.60H200.55M199.15,214.75H200.55" stroke="#111111" stroke-width="0.55" fill="none" opacity="0.72"/>
<path d="M202.20,216.46V222.25M201.50,216.46H202.90M201.50,222.25H202.90" stroke="#111111" stroke-width="0.55" fill="none" opacity="0.72"/>
<path d="M204.55,223.58V229.20M203.85,223.58H205.25M203.85,229.20H205.25" stroke="#111111" stroke-width="0.55" fill="none" opacity="0.72"/>
<path d="M206.90,227.77V232.91M206.20,227.77H207.60M206.20,232.91H207.60" stroke="#111111" stroke-width="0.55" fill="none" opacity="0.72"/>
<path d="M209.25,232.70V237.01M208.55,232.70H209.95M208.55,237.01H209.95" stroke="#111111" stroke-width="0.55" fill="none" opacity="0.72"/>
<path d="M211.60,235.67V241.78M210.90,235.67H212.30M210.90,241.78H212.30" stroke="#111111" stroke-width="0.55" fill="none" opacity="0.72"/>
<path d="M213.95,235.93V242.09M213.25,235.93H214.65M213.25,242.09H214.65" stroke="#111111" stroke-width="0.55" fill="none" opacity="0.72"/>
<path d="M216.30,238.66V243.90M215.60,238.66H217.00M215.60,243.90H217.00" stroke="#111111" stroke-width="0.55" fill="none" opacity="0.72"/>
<path d="M218.65,240.48V245.70M217.95,240.48H219.35M217.95,245.70H219.35" stroke="#111111" stroke-width="0.55" fill="none" opacity="0.72"/>
<path d="M221.00,242.47V246.85M220.30,242.47H221.70M220.30,246.85H221.70" stroke="#111111" stroke-width="0.55" fill="none" opacity="0.72"/>
<path d="M223.35,241.82V245.47M222.65,241.82H224.05M222.65,245.47H224.05" stroke="#111111" stroke-width="0.55" fill="none" opacity="0.72"/>
<path d="M225.70,242.59V247.39M225.00,242.59H226.40M225.00,247.39H226.40" stroke="#111111" stroke-width="0.55" fill="none" opacity="0.72"/>
<path d="M228.05,242.01V247.48M227.35,242.01H228.75M227.35,247.48H228.75" stroke="#111111" stroke-width="0.55" fill="none" opacity="0.72"/>
<path d="M230.40,245.00V248.86M229.70,245.00H231.10M229.70,248.86H231.10" stroke="#111111" stroke-width="0.55" fill="none" opacity="0.72"/>
<path d="M232.75,243.64V249.76M232.05,243.64H233.45M232.05,249.76H233.45" stroke="#111111" stroke-width="0.55" fill="none" opacity="0.72"/>
<path d="M235.10,242.83V247.19M234.40,242.83H235.80M234.40,247.19H235.80" stroke="#111111" stroke-width="0.55" fill="none" opacity="0.72"/>
<path d="M237.45,245.27V249.64M236.75,245.27H238.15M236.75,249.64H238.15" stroke="#111111" stroke-width="0.55" fill="none" opacity="0.72"/>
<path d="M239.80,241.66V245.43M239.10,241.66H240.50M239.10,245.43H240.50" stroke="#111111" stroke-width="0.55" fill="none" opacity="0.72"/>
<path d="M242.15,242.02V248.78M241.45,242.02H242.85M241.45,248.78H242.85" stroke="#111111" stroke-width="0.55" fill="none" opacity="0.72"/>
<path d="M244.50,241.33V247.27M243.80,241.33H245.20M243.80,247.27H245.20" stroke="#111111" stroke-width="0.55" fill="none" opacity="0.72"/>
<path d="M246.85,238.92V245.29M246.15,238.92H247.55M246.15,245.29H247.55" stroke="#111111" stroke-width="0.55" fill="none" opacity="0.72"/>
<path d="M249.20,237.71V243.27M248.50,237.71H249.90M248.50,243.27H249.90" stroke="#111111" stroke-width="0.55" fill="none" opacity="0.72"/>
<path d="M251.55,238.70V242.45M250.85,238.70H252.25M250.85,242.45H252.25" stroke="#111111" stroke-width="0.55" fill="none" opacity="0.72"/>
<path d="M253.90,235.57V240.23M253.20,235.57H254.60M253.20,240.23H254.60" stroke="#111111" stroke-width="0.55" fill="none" opacity="0.72"/>
<path d="M256.25,234.19V239.38M255.55,234.19H256.95M255.55,239.38H256.95" stroke="#111111" stroke-width="0.55" fill="none" opacity="0.72"/>
<path d="M258.60,233.44V237.44M257.90,233.44H259.30M257.90,237.44H259.30" stroke="#111111" stroke-width="0.55" fill="none" opacity="0.72"/>
<path d="M260.95,230.03V236.64M260.25,230.03H261.65M260.25,236.64H261.65" stroke="#111111" stroke-width="0.55" fill="none" opacity="0.72"/>
<path d="M263.30,230.51V235.30M262.60,230.51H264.00M262.60,235.30H264.00" stroke="#111111" stroke-width="0.55" fill="none" opacity="0.72"/>
<path d="M265.65,229.23V233.35M264.95,229.23H266.35M264.95,233.35H266.35" stroke="#111111" stroke-width="0.55" fill="none" opacity="0.72"/>
<path d="M268.00,227.68V233.87M267.30,227.68H268.70M267.30,233.87H268.70" stroke="#111111" stroke-width="0.55" fill="none" opacity="0.72"/>
<path d="M270.35,225.99V230.02M269.65,225.99H271.05M269.65,230.02H271.05" stroke="#111111" stroke-width="0.55" fill="none" opacity="0.72"/>
<path d="M272.70,223.00V229.53M272.00,223.00H273.40M272.00,229.53H273.40" stroke="#111111" stroke-width="0.55" fill="none" opacity="0.72"/>
<path d="M275.05,221.32V226.37M274.35,221.32H275.75M274.35,226.37H275.75" stroke="#111111" stroke-width="0.55" fill="none" opacity="0.72"/>
<path d="M277.40,219.75V225.11M276.70,219.75H278.10M276.70,225.11H278.10" stroke="#111111" stroke-width="0.55" fill="none" opacity="0.72"/>
<path d="M279.75,218.37V223.08M279.05,218.37H280.45M279.05,223.08H280.45" stroke="#111111" stroke-width="0.55" fill="none" opacity="0.72"/>
<path d="M282.10,216.52V221.67M281.40,216.52H282.80M281.40,221.67H282.80" stroke="#111111" stroke-width="0.55" fill="none" opacity="0.72"/>
<path d="M284.45,217.68V221.91M283.75,217.68H285.15M283.75,221.91H285.15" stroke="#111111" stroke-width="0.55" fill="none" opacity="0.72"/>
<path d="M286.80,216.96V220.71M286.10,216.96H287.50M286.10,220.71H287.50" stroke="#111111" stroke-width="0.55" fill="none" opacity="0.72"/>
<path d="M289.15,214.31V220.65M288.45,214.31H289.85M288.45,220.65H289.85" stroke="#111111" stroke-width="0.55" fill="none" opacity="0.72"/>
<path d="M291.50,214.00V218.37M290.80,214.00H292.20M290.80,218.37H292.20" stroke="#111111" stroke-width="0.55" fill="none" opacity="0.72"/>
<path d="M293.85,211.17V217.25M293.15,211.17H294.55M293.15,217.25H294.55" stroke="#111111" stroke-width="0.55" fill="none" opacity="0.72"/>
<path d="M296.20,210.89V215.18M295.50,210.89H296.90M295.50,215.18H296.90" stroke="#111111" stroke-width="0.55" fill="none" opacity="0.72"/>
<path d="M199.85,212.68 L202.20,219.36 L204.55,226.39 L206.90,230.34 L209.25,234.85 L211.60,238.73 L213.95,239.01 L216.30,241.28 L218.65,243.09 L221.00,244.66 L223.35,243.64 L225.70,244.99 L228.05,244.75 L230.40,246.93 L232.75,246.70 L235.10,245.01 L237.45,247.45 L239.80,243.54 L242.15,245.40 L244.50,244.30 L246.85,242.11 L249.20,240.49 L251.55,240.57 L253.90,237.90 L256.25,236.79 L258.60,235.44 L260.95,233.33 L263.30,232.91 L265.65,231.29 L268.00,230.78 L270.35,228.01 L272.70,226.26 L275.05,223.84 L277.40,222.43 L279.75,220.73 L282.10,219.09 L284.45,219.79 L286.80,218.84 L289.15,217.48 L291.50,216.18 L293.85,214.21 L296.20,213.04" stroke="#111111" stroke-width="0.8" fill="none"/>
<circle cx="199.85" cy="212.68" r="0.9" fill="#111111"/>
<circle cx="202.20" cy="219.36" r="0.9" fill="#111111"/>
<circle cx="204.55" cy="226.39" r="0.9" fill="#111111"/>
<circle cx="206.90" cy="230.34" r="0.9" fill="#111111"/>
<circle cx="209.25" cy="234.85" r="0.9" fill="#111111"/>
<circle cx="211.60" cy="238.73" r="0.9" fill="#111111"/>
<circle cx="213.95" cy="239.01" r="0.9" fill="#111111"/>
<circle cx="216.30" cy="241.28" r="0.9" fill="#111111"/>
<circle cx="218.65" cy="243.09" r="0.9" fill="#111111"/>
<circle cx="221.00" cy="244.66" r="0.9" fill="#111111"/>
<circle cx="223.35" cy="243.64" r="0.9" fill="#111111"/>
<circle cx="225.70" cy="244.99" r="0.9" fill="#111111"/>
<circle cx="228.05" cy="244.75" r="0.9" fill="#111111"/>
<circle cx="230.40" cy="246.93" r="0.9" fill="#111111"/>
<circle cx="232.75" cy="246.70" r="0.9" fill="#111111"/>
<circle cx="235.10" cy="245.01" r="0.9" fill="#111111"/>
<circle cx="237.45" cy="247.45" r="0.9" fill="#111111"/>
<circle cx="239.80" cy="243.54" r="0.9" fill="#111111"/>
<circle cx="242.15" cy="245.40" r="0.9" fill="#111111"/>
<circle cx="244.50" cy="244.30" r="0.9" fill="#111111"/>
<circle cx="246.85" cy="242.11" r="0.9" fill="#111111"/>
<circle cx="249.20" cy="240.49" r="0.9" fill="#111111"/>
<circle cx="251.55" cy="240.57" r="0.9" fill="#111111"/>
<circle cx="253.90" cy="237.90" r="0.9" fill="#111111"/>
<circle cx="256.25" cy="236.79" r="0.9" fill="#111111"/>
<circle cx="258.60" cy="235.44" r="0.9" fill="#111111"/>
<circle cx="260.95" cy="233.33" r="0.9" fill="#111111"/>
<circle cx="263.30" cy="232.91" r="0.9" fill="#111111"/>
<circle cx="265.65" cy="231.29" r="0.9" fill="#111111"/>
<circle cx="268.00" cy="230.78" r="0.9" fill="#111111"/>
<circle cx="270.35" cy="228.01" r="0.9" fill="#111111"/>
<circle cx="272.70" cy="226.26" r="0.9" fill="#111111"/>
<circle cx="275.05" cy="223.84" r="0.9" fill="#111111"/>
<circle cx="277.40" cy="222.43" r="0.9" fill="#111111"/>
<circle cx="279.75" cy="220.73" r="0.9" fill="#111111"/>
<circle cx="282.10" cy="219.09" r="0.9" fill="#111111"/>
<circle cx="284.45" cy="219.79" r="0.9" fill="#111111"/>
<circle cx="286.80" cy="218.84" r="0.9" fill="#111111"/>
<circle cx="289.15" cy="217.48" r="0.9" fill="#111111"/>
<circle cx="291.50" cy="216.18" r="0.9" fill="#111111"/>
<circle cx="293.85" cy="214.21" r="0.9" fill="#111111"/>
<circle cx="296.20" cy="213.04" r="0.9" fill="#111111"/>
<path d="M199.85,225.60V235.29M199.15,225.60H200.55M199.15,235.29H200.55" stroke="#f01010" stroke-width="0.55" fill="none" opacity="0.72"/>
<path d="M202.20,235.12V241.08M201.50,235.12H202.90M201.50,241.08H202.90" stroke="#f01010" stroke-width="0.55" fill="none" opacity="0.72"/>
<path d="M204.55,241.74V247.17M203.85,241.74H205.25M203.85,247.17H205.25" stroke="#f01010" stroke-width="0.55" fill="none" opacity="0.72"/>
<path d="M206.90,241.91V251.79M206.20,241.91H207.60M206.20,251.79H207.60" stroke="#f01010" stroke-width="0.55" fill="none" opacity="0.72"/>
<path d="M209.25,246.73V252.89M208.55,246.73H209.95M208.55,252.89H209.95" stroke="#f01010" stroke-width="0.55" fill="none" opacity="0.72"/>
<path d="M211.60,250.03V255.90M210.90,250.03H212.30M210.90,255.90H212.30" stroke="#f01010" stroke-width="0.55" fill="none" opacity="0.72"/>
<path d="M213.95,250.80V259.09M213.25,250.80H214.65M213.25,259.09H214.65" stroke="#f01010" stroke-width="0.55" fill="none" opacity="0.72"/>
<path d="M216.30,254.42V261.32M215.60,254.42H217.00M215.60,261.32H217.00" stroke="#f01010" stroke-width="0.55" fill="none" opacity="0.72"/>
<path d="M218.65,254.73V264.11M217.95,254.73H219.35M217.95,264.11H219.35" stroke="#f01010" stroke-width="0.55" fill="none" opacity="0.72"/>
<path d="M221.00,258.03V264.41M220.30,258.03H221.70M220.30,264.41H221.70" stroke="#f01010" stroke-width="0.55" fill="none" opacity="0.72"/>
<path d="M223.35,257.73V267.43M222.65,257.73H224.05M222.65,267.43H224.05" stroke="#f01010" stroke-width="0.55" fill="none" opacity="0.72"/>
<path d="M225.70,259.22V265.99M225.00,259.22H226.40M225.00,265.99H226.40" stroke="#f01010" stroke-width="0.55" fill="none" opacity="0.72"/>
<path d="M228.05,257.24V265.30M227.35,257.24H228.75M227.35,265.30H228.75" stroke="#f01010" stroke-width="0.55" fill="none" opacity="0.72"/>
<path d="M230.40,256.85V266.42M229.70,256.85H231.10M229.70,266.42H231.10" stroke="#f01010" stroke-width="0.55" fill="none" opacity="0.72"/>
<path d="M232.75,256.48V264.93M232.05,256.48H233.45M232.05,264.93H233.45" stroke="#f01010" stroke-width="0.55" fill="none" opacity="0.72"/>
<path d="M235.10,257.26V266.80M234.40,257.26H235.80M234.40,266.80H235.80" stroke="#f01010" stroke-width="0.55" fill="none" opacity="0.72"/>
<path d="M237.45,255.71V264.26M236.75,255.71H238.15M236.75,264.26H238.15" stroke="#f01010" stroke-width="0.55" fill="none" opacity="0.72"/>
<path d="M239.80,259.11V264.65M239.10,259.11H240.50M239.10,264.65H240.50" stroke="#f01010" stroke-width="0.55" fill="none" opacity="0.72"/>
<path d="M242.15,255.79V265.13M241.45,255.79H242.85M241.45,265.13H242.85" stroke="#f01010" stroke-width="0.55" fill="none" opacity="0.72"/>
<path d="M244.50,257.61V265.62M243.80,257.61H245.20M243.80,265.62H245.20" stroke="#f01010" stroke-width="0.55" fill="none" opacity="0.72"/>
<path d="M246.85,257.27V264.01M246.15,257.27H247.55M246.15,264.01H247.55" stroke="#f01010" stroke-width="0.55" fill="none" opacity="0.72"/>
<path d="M249.20,257.50V263.68M248.50,257.50H249.90M248.50,263.68H249.90" stroke="#f01010" stroke-width="0.55" fill="none" opacity="0.72"/>
<path d="M251.55,256.48V265.68M250.85,256.48H252.25M250.85,265.68H252.25" stroke="#f01010" stroke-width="0.55" fill="none" opacity="0.72"/>
<path d="M253.90,254.81V262.78M253.20,254.81H254.60M253.20,262.78H254.60" stroke="#f01010" stroke-width="0.55" fill="none" opacity="0.72"/>
<path d="M256.25,253.43V263.02M255.55,253.43H256.95M255.55,263.02H256.95" stroke="#f01010" stroke-width="0.55" fill="none" opacity="0.72"/>
<path d="M258.60,254.45V263.30M257.90,254.45H259.30M257.90,263.30H259.30" stroke="#f01010" stroke-width="0.55" fill="none" opacity="0.72"/>
<path d="M260.95,251.90V261.60M260.25,251.90H261.65M260.25,261.60H261.65" stroke="#f01010" stroke-width="0.55" fill="none" opacity="0.72"/>
<path d="M263.30,250.65V258.55M262.60,250.65H264.00M262.60,258.55H264.00" stroke="#f01010" stroke-width="0.55" fill="none" opacity="0.72"/>
<path d="M265.65,250.89V259.40M264.95,250.89H266.35M264.95,259.40H266.35" stroke="#f01010" stroke-width="0.55" fill="none" opacity="0.72"/>
<path d="M268.00,249.57V257.68M267.30,249.57H268.70M267.30,257.68H268.70" stroke="#f01010" stroke-width="0.55" fill="none" opacity="0.72"/>
<path d="M270.35,247.11V253.61M269.65,247.11H271.05M269.65,253.61H271.05" stroke="#f01010" stroke-width="0.55" fill="none" opacity="0.72"/>
<path d="M272.70,244.76V254.44M272.00,244.76H273.40M272.00,254.44H273.40" stroke="#f01010" stroke-width="0.55" fill="none" opacity="0.72"/>
<path d="M275.05,244.12V250.87M274.35,244.12H275.75M274.35,250.87H275.75" stroke="#f01010" stroke-width="0.55" fill="none" opacity="0.72"/>
<path d="M277.40,241.98V250.86M276.70,241.98H278.10M276.70,250.86H278.10" stroke="#f01010" stroke-width="0.55" fill="none" opacity="0.72"/>
<path d="M279.75,240.80V250.47M279.05,240.80H280.45M279.05,250.47H280.45" stroke="#f01010" stroke-width="0.55" fill="none" opacity="0.72"/>
<path d="M282.10,238.94V247.23M281.40,238.94H282.80M281.40,247.23H282.80" stroke="#f01010" stroke-width="0.55" fill="none" opacity="0.72"/>
<path d="M284.45,239.70V245.67M283.75,239.70H285.15M283.75,245.67H285.15" stroke="#f01010" stroke-width="0.55" fill="none" opacity="0.72"/>
<path d="M286.80,235.15V244.23M286.10,235.15H287.50M286.10,244.23H287.50" stroke="#f01010" stroke-width="0.55" fill="none" opacity="0.72"/>
<path d="M289.15,234.36V242.72M288.45,234.36H289.85M288.45,242.72H289.85" stroke="#f01010" stroke-width="0.55" fill="none" opacity="0.72"/>
<path d="M291.50,235.94V242.10M290.80,235.94H292.20M290.80,242.10H292.20" stroke="#f01010" stroke-width="0.55" fill="none" opacity="0.72"/>
<path d="M293.85,234.39V239.94M293.15,234.39H294.55M293.15,239.94H294.55" stroke="#f01010" stroke-width="0.55" fill="none" opacity="0.72"/>
<path d="M296.20,232.39V240.14M295.50,232.39H296.90M295.50,240.14H296.90" stroke="#f01010" stroke-width="0.55" fill="none" opacity="0.72"/>
<path d="M199.85,230.44 L202.20,238.10 L204.55,244.45 L206.90,246.85 L209.25,249.81 L211.60,252.96 L213.95,254.94 L216.30,257.87 L218.65,259.42 L221.00,261.22 L223.35,262.58 L225.70,262.60 L228.05,261.27 L230.40,261.63 L232.75,260.71 L235.10,262.03 L237.45,259.98 L239.80,261.88 L242.15,260.46 L244.50,261.61 L246.85,260.64 L249.20,260.59 L251.55,261.08 L253.90,258.80 L256.25,258.23 L258.60,258.87 L260.95,256.75 L263.30,254.60 L265.65,255.14 L268.00,253.63 L270.35,250.36 L272.70,249.60 L275.05,247.50 L277.40,246.42 L279.75,245.63 L282.10,243.08 L284.45,242.68 L286.80,239.69 L289.15,238.54 L291.50,239.02 L293.85,237.16 L296.20,236.26" stroke="#f01010" stroke-width="0.85" fill="none"/>
<circle cx="199.85" cy="230.44" r="0.9" fill="#f01010"/>
<circle cx="202.20" cy="238.10" r="0.9" fill="#f01010"/>
<circle cx="204.55" cy="244.45" r="0.9" fill="#f01010"/>
<circle cx="206.90" cy="246.85" r="0.9" fill="#f01010"/>
<circle cx="209.25" cy="249.81" r="0.9" fill="#f01010"/>
<circle cx="211.60" cy="252.96" r="0.9" fill="#f01010"/>
<circle cx="213.95" cy="254.94" r="0.9" fill="#f01010"/>
<circle cx="216.30" cy="257.87" r="0.9" fill="#f01010"/>
<circle cx="218.65" cy="259.42" r="0.9" fill="#f01010"/>
<circle cx="221.00" cy="261.22" r="0.9" fill="#f01010"/>
<circle cx="223.35" cy="262.58" r="0.9" fill="#f01010"/>
<circle cx="225.70" cy="262.60" r="0.9" fill="#f01010"/>
<circle cx="228.05" cy="261.27" r="0.9" fill="#f01010"/>
<circle cx="230.40" cy="261.63" r="0.9" fill="#f01010"/>
<circle cx="232.75" cy="260.71" r="0.9" fill="#f01010"/>
<circle cx="235.10" cy="262.03" r="0.9" fill="#f01010"/>
<circle cx="237.45" cy="259.98" r="0.9" fill="#f01010"/>
<circle cx="239.80" cy="261.88" r="0.9" fill="#f01010"/>
<circle cx="242.15" cy="260.46" r="0.9" fill="#f01010"/>
<circle cx="244.50" cy="261.61" r="0.9" fill="#f01010"/>
<circle cx="246.85" cy="260.64" r="0.9" fill="#f01010"/>
<circle cx="249.20" cy="260.59" r="0.9" fill="#f01010"/>
<circle cx="251.55" cy="261.08" r="0.9" fill="#f01010"/>
<circle cx="253.90" cy="258.80" r="0.9" fill="#f01010"/>
<circle cx="256.25" cy="258.23" r="0.9" fill="#f01010"/>
<circle cx="258.60" cy="258.87" r="0.9" fill="#f01010"/>
<circle cx="260.95" cy="256.75" r="0.9" fill="#f01010"/>
<circle cx="263.30" cy="254.60" r="0.9" fill="#f01010"/>
<circle cx="265.65" cy="255.14" r="0.9" fill="#f01010"/>
<circle cx="268.00" cy="253.63" r="0.9" fill="#f01010"/>
<circle cx="270.35" cy="250.36" r="0.9" fill="#f01010"/>
<circle cx="272.70" cy="249.60" r="0.9" fill="#f01010"/>
<circle cx="275.05" cy="247.50" r="0.9" fill="#f01010"/>
<circle cx="277.40" cy="246.42" r="0.9" fill="#f01010"/>
<circle cx="279.75" cy="245.63" r="0.9" fill="#f01010"/>
<circle cx="282.10" cy="243.08" r="0.9" fill="#f01010"/>
<circle cx="284.45" cy="242.68" r="0.9" fill="#f01010"/>
<circle cx="286.80" cy="239.69" r="0.9" fill="#f01010"/>
<circle cx="289.15" cy="238.54" r="0.9" fill="#f01010"/>
<circle cx="291.50" cy="239.02" r="0.9" fill="#f01010"/>
<circle cx="293.85" cy="237.16" r="0.9" fill="#f01010"/>
<circle cx="296.20" cy="236.26" r="0.9" fill="#f01010"/>
<path d="M199.85,216.30V223.33M199.15,216.30H200.55M199.15,223.33H200.55" stroke="#6cc6f0" stroke-width="0.55" fill="none" opacity="0.72"/>
<path d="M202.20,224.18V231.29M201.50,224.18H202.90M201.50,231.29H202.90" stroke="#6cc6f0" stroke-width="0.55" fill="none" opacity="0.72"/>
<path d="M204.55,230.31V237.23M203.85,230.31H205.25M203.85,237.23H205.25" stroke="#6cc6f0" stroke-width="0.55" fill="none" opacity="0.72"/>
<path d="M206.90,236.87V241.08M206.20,236.87H207.60M206.20,241.08H207.60" stroke="#6cc6f0" stroke-width="0.55" fill="none" opacity="0.72"/>
<path d="M209.25,238.45V244.36M208.55,238.45H209.95M208.55,244.36H209.95" stroke="#6cc6f0" stroke-width="0.55" fill="none" opacity="0.72"/>
<path d="M211.60,242.59V247.93M210.90,242.59H212.30M210.90,247.93H212.30" stroke="#6cc6f0" stroke-width="0.55" fill="none" opacity="0.72"/>
<path d="M213.95,244.48V250.18M213.25,244.48H214.65M213.25,250.18H214.65" stroke="#6cc6f0" stroke-width="0.55" fill="none" opacity="0.72"/>
<path d="M216.30,247.54V251.90M215.60,247.54H217.00M215.60,251.90H217.00" stroke="#6cc6f0" stroke-width="0.55" fill="none" opacity="0.72"/>
<path d="M218.65,250.69V255.25M217.95,250.69H219.35M217.95,255.25H219.35" stroke="#6cc6f0" stroke-width="0.55" fill="none" opacity="0.72"/>
<path d="M221.00,250.82V256.23M220.30,250.82H221.70M220.30,256.23H221.70" stroke="#6cc6f0" stroke-width="0.55" fill="none" opacity="0.72"/>
<path d="M223.35,253.76V258.43M222.65,253.76H224.05M222.65,258.43H224.05" stroke="#6cc6f0" stroke-width="0.55" fill="none" opacity="0.72"/>
<path d="M225.70,254.50V259.95M225.00,254.50H226.40M225.00,259.95H226.40" stroke="#6cc6f0" stroke-width="0.55" fill="none" opacity="0.72"/>
<path d="M228.05,257.12V261.12M227.35,257.12H228.75M227.35,261.12H228.75" stroke="#6cc6f0" stroke-width="0.55" fill="none" opacity="0.72"/>
<path d="M230.40,259.03V263.23M229.70,259.03H231.10M229.70,263.23H231.10" stroke="#6cc6f0" stroke-width="0.55" fill="none" opacity="0.72"/>
<path d="M232.75,260.52V266.83M232.05,260.52H233.45M232.05,266.83H233.45" stroke="#6cc6f0" stroke-width="0.55" fill="none" opacity="0.72"/>
<path d="M235.10,262.32V267.66M234.40,262.32H235.80M234.40,267.66H235.80" stroke="#6cc6f0" stroke-width="0.55" fill="none" opacity="0.72"/>
<path d="M237.45,262.86V268.51M236.75,262.86H238.15M236.75,268.51H238.15" stroke="#6cc6f0" stroke-width="0.55" fill="none" opacity="0.72"/>
<path d="M239.80,265.24V271.63M239.10,265.24H240.50M239.10,271.63H240.50" stroke="#6cc6f0" stroke-width="0.55" fill="none" opacity="0.72"/>
<path d="M242.15,267.03V272.16M241.45,267.03H242.85M241.45,272.16H242.85" stroke="#6cc6f0" stroke-width="0.55" fill="none" opacity="0.72"/>
<path d="M244.50,269.59V273.70M243.80,269.59H245.20M243.80,273.70H245.20" stroke="#6cc6f0" stroke-width="0.55" fill="none" opacity="0.72"/>
<path d="M246.85,268.84V275.40M246.15,268.84H247.55M246.15,275.40H247.55" stroke="#6cc6f0" stroke-width="0.55" fill="none" opacity="0.72"/>
<path d="M249.20,269.10V275.00M248.50,269.10H249.90M248.50,275.00H249.90" stroke="#6cc6f0" stroke-width="0.55" fill="none" opacity="0.72"/>
<path d="M251.55,268.96V275.09M250.85,268.96H252.25M250.85,275.09H252.25" stroke="#6cc6f0" stroke-width="0.55" fill="none" opacity="0.72"/>
<path d="M253.90,268.80V274.80M253.20,268.80H254.60M253.20,274.80H254.60" stroke="#6cc6f0" stroke-width="0.55" fill="none" opacity="0.72"/>
<path d="M256.25,268.56V275.74M255.55,268.56H256.95M255.55,275.74H256.95" stroke="#6cc6f0" stroke-width="0.55" fill="none" opacity="0.72"/>
<path d="M258.60,269.03V274.17M257.90,269.03H259.30M257.90,274.17H259.30" stroke="#6cc6f0" stroke-width="0.55" fill="none" opacity="0.72"/>
<path d="M260.95,266.53V273.01M260.25,266.53H261.65M260.25,273.01H261.65" stroke="#6cc6f0" stroke-width="0.55" fill="none" opacity="0.72"/>
<path d="M263.30,267.62V272.78M262.60,267.62H264.00M262.60,272.78H264.00" stroke="#6cc6f0" stroke-width="0.55" fill="none" opacity="0.72"/>
<path d="M265.65,266.33V272.17M264.95,266.33H266.35M264.95,272.17H266.35" stroke="#6cc6f0" stroke-width="0.55" fill="none" opacity="0.72"/>
<path d="M268.00,266.50V272.64M267.30,266.50H268.70M267.30,272.64H268.70" stroke="#6cc6f0" stroke-width="0.55" fill="none" opacity="0.72"/>
<path d="M270.35,266.47V271.45M269.65,266.47H271.05M269.65,271.45H271.05" stroke="#6cc6f0" stroke-width="0.55" fill="none" opacity="0.72"/>
<path d="M272.70,266.37V270.57M272.00,266.37H273.40M272.00,270.57H273.40" stroke="#6cc6f0" stroke-width="0.55" fill="none" opacity="0.72"/>
<path d="M275.05,265.18V270.70M274.35,265.18H275.75M274.35,270.70H275.75" stroke="#6cc6f0" stroke-width="0.55" fill="none" opacity="0.72"/>
<path d="M277.40,264.33V270.66M276.70,264.33H278.10M276.70,270.66H278.10" stroke="#6cc6f0" stroke-width="0.55" fill="none" opacity="0.72"/>
<path d="M279.75,263.73V269.64M279.05,263.73H280.45M279.05,269.64H280.45" stroke="#6cc6f0" stroke-width="0.55" fill="none" opacity="0.72"/>
<path d="M282.10,263.00V268.42M281.40,263.00H282.80M281.40,268.42H282.80" stroke="#6cc6f0" stroke-width="0.55" fill="none" opacity="0.72"/>
<path d="M284.45,263.50V269.58M283.75,263.50H285.15M283.75,269.58H285.15" stroke="#6cc6f0" stroke-width="0.55" fill="none" opacity="0.72"/>
<path d="M286.80,263.66V268.20M286.10,263.66H287.50M286.10,268.20H287.50" stroke="#6cc6f0" stroke-width="0.55" fill="none" opacity="0.72"/>
<path d="M289.15,263.48V268.00M288.45,263.48H289.85M288.45,268.00H289.85" stroke="#6cc6f0" stroke-width="0.55" fill="none" opacity="0.72"/>
<path d="M291.50,262.08V267.09M290.80,262.08H292.20M290.80,267.09H292.20" stroke="#6cc6f0" stroke-width="0.55" fill="none" opacity="0.72"/>
<path d="M293.85,260.41V267.07M293.15,260.41H294.55M293.15,267.07H294.55" stroke="#6cc6f0" stroke-width="0.55" fill="none" opacity="0.72"/>
<path d="M296.20,261.27V265.85M295.50,261.27H296.90M295.50,265.85H296.90" stroke="#6cc6f0" stroke-width="0.55" fill="none" opacity="0.72"/>
<path d="M199.85,219.82 L202.20,227.74 L204.55,233.77 L206.90,238.97 L209.25,241.41 L211.60,245.26 L213.95,247.33 L216.30,249.72 L218.65,252.97 L221.00,253.53 L223.35,256.10 L225.70,257.23 L228.05,259.12 L230.40,261.13 L232.75,263.68 L235.10,264.99 L237.45,265.69 L239.80,268.44 L242.15,269.59 L244.50,271.64 L246.85,272.12 L249.20,272.05 L251.55,272.03 L253.90,271.80 L256.25,272.15 L258.60,271.60 L260.95,269.77 L263.30,270.20 L265.65,269.25 L268.00,269.57 L270.35,268.96 L272.70,268.47 L275.05,267.94 L277.40,267.49 L279.75,266.68 L282.10,265.71 L284.45,266.54 L286.80,265.93 L289.15,265.74 L291.50,264.58 L293.85,263.74 L296.20,263.56" stroke="#6cc6f0" stroke-width="0.85" fill="none"/>
<circle cx="199.85" cy="219.82" r="0.9" fill="#6cc6f0"/>
<circle cx="202.20" cy="227.74" r="0.9" fill="#6cc6f0"/>
<circle cx="204.55" cy="233.77" r="0.9" fill="#6cc6f0"/>
<circle cx="206.90" cy="238.97" r="0.9" fill="#6cc6f0"/>
<circle cx="209.25" cy="241.41" r="0.9" fill="#6cc6f0"/>
<circle cx="211.60" cy="245.26" r="0.9" fill="#6cc6f0"/>
<circle cx="213.95" cy="247.33" r="0.9" fill="#6cc6f0"/>
<circle cx="216.30" cy="249.72" r="0.9" fill="#6cc6f0"/>
<circle cx="218.65" cy="252.97" r="0.9" fill="#6cc6f0"/>
<circle cx="221.00" cy="253.53" r="0.9" fill="#6cc6f0"/>
<circle cx="223.35" cy="256.10" r="0.9" fill="#6cc6f0"/>
<circle cx="225.70" cy="257.23" r="0.9" fill="#6cc6f0"/>
<circle cx="228.05" cy="259.12" r="0.9" fill="#6cc6f0"/>
<circle cx="230.40" cy="261.13" r="0.9" fill="#6cc6f0"/>
<circle cx="232.75" cy="263.68" r="0.9" fill="#6cc6f0"/>
<circle cx="235.10" cy="264.99" r="0.9" fill="#6cc6f0"/>
<circle cx="237.45" cy="265.69" r="0.9" fill="#6cc6f0"/>
<circle cx="239.80" cy="268.44" r="0.9" fill="#6cc6f0"/>
<circle cx="242.15" cy="269.59" r="0.9" fill="#6cc6f0"/>
<circle cx="244.50" cy="271.64" r="0.9" fill="#6cc6f0"/>
<circle cx="246.85" cy="272.12" r="0.9" fill="#6cc6f0"/>
<circle cx="249.20" cy="272.05" r="0.9" fill="#6cc6f0"/>
<circle cx="251.55" cy="272.03" r="0.9" fill="#6cc6f0"/>
<circle cx="253.90" cy="271.80" r="0.9" fill="#6cc6f0"/>
<circle cx="256.25" cy="272.15" r="0.9" fill="#6cc6f0"/>
<circle cx="258.60" cy="271.60" r="0.9" fill="#6cc6f0"/>
<circle cx="260.95" cy="269.77" r="0.9" fill="#6cc6f0"/>
<circle cx="263.30" cy="270.20" r="0.9" fill="#6cc6f0"/>
<circle cx="265.65" cy="269.25" r="0.9" fill="#6cc6f0"/>
<circle cx="268.00" cy="269.57" r="0.9" fill="#6cc6f0"/>
<circle cx="270.35" cy="268.96" r="0.9" fill="#6cc6f0"/>
<circle cx="272.70" cy="268.47" r="0.9" fill="#6cc6f0"/>
<circle cx="275.05" cy="267.94" r="0.9" fill="#6cc6f0"/>
<circle cx="277.40" cy="267.49" r="0.9" fill="#6cc6f0"/>
<circle cx="279.75" cy="266.68" r="0.9" fill="#6cc6f0"/>
<circle cx="282.10" cy="265.71" r="0.9" fill="#6cc6f0"/>
<circle cx="284.45" cy="266.54" r="0.9" fill="#6cc6f0"/>
<circle cx="286.80" cy="265.93" r="0.9" fill="#6cc6f0"/>
<circle cx="289.15" cy="265.74" r="0.9" fill="#6cc6f0"/>
<circle cx="291.50" cy="264.58" r="0.9" fill="#6cc6f0"/>
<circle cx="293.85" cy="263.74" r="0.9" fill="#6cc6f0"/>
<circle cx="296.20" cy="263.56" r="0.9" fill="#6cc6f0"/>
<path d="M199.85,224.74V235.11M199.15,224.74H200.55M199.15,235.11H200.55" stroke="#c39be0" stroke-width="0.55" fill="none" opacity="0.72"/>
<path d="M202.20,234.14V245.22M201.50,234.14H202.90M201.50,245.22H202.90" stroke="#c39be0" stroke-width="0.55" fill="none" opacity="0.72"/>
<path d="M204.55,243.05V250.49M203.85,243.05H205.25M203.85,250.49H205.25" stroke="#c39be0" stroke-width="0.55" fill="none" opacity="0.72"/>
<path d="M206.90,249.00V260.95M206.20,249.00H207.60M206.20,260.95H207.60" stroke="#c39be0" stroke-width="0.55" fill="none" opacity="0.72"/>
<path d="M209.25,254.57V262.08M208.55,254.57H209.95M208.55,262.08H209.95" stroke="#c39be0" stroke-width="0.55" fill="none" opacity="0.72"/>
<path d="M211.60,256.14V266.28M210.90,256.14H212.30M210.90,266.28H212.30" stroke="#c39be0" stroke-width="0.55" fill="none" opacity="0.72"/>
<path d="M213.95,262.31V269.26M213.25,262.31H214.65M213.25,269.26H214.65" stroke="#c39be0" stroke-width="0.55" fill="none" opacity="0.72"/>
<path d="M216.30,261.97V272.60M215.60,261.97H217.00M215.60,272.60H217.00" stroke="#c39be0" stroke-width="0.55" fill="none" opacity="0.72"/>
<path d="M218.65,264.15V271.42M217.95,264.15H219.35M217.95,271.42H219.35" stroke="#c39be0" stroke-width="0.55" fill="none" opacity="0.72"/>
<path d="M221.00,266.44V276.78M220.30,266.44H221.70M220.30,276.78H221.70" stroke="#c39be0" stroke-width="0.55" fill="none" opacity="0.72"/>
<path d="M223.35,267.45V277.89M222.65,267.45H224.05M222.65,277.89H224.05" stroke="#c39be0" stroke-width="0.55" fill="none" opacity="0.72"/>
<path d="M225.70,270.78V281.44M225.00,270.78H226.40M225.00,281.44H226.40" stroke="#c39be0" stroke-width="0.55" fill="none" opacity="0.72"/>
<path d="M228.05,270.96V279.83M227.35,270.96H228.75M227.35,279.83H228.75" stroke="#c39be0" stroke-width="0.55" fill="none" opacity="0.72"/>
<path d="M230.40,271.28V282.50M229.70,271.28H231.10M229.70,282.50H231.10" stroke="#c39be0" stroke-width="0.55" fill="none" opacity="0.72"/>
<path d="M232.75,274.46V286.35M232.05,274.46H233.45M232.05,286.35H233.45" stroke="#c39be0" stroke-width="0.55" fill="none" opacity="0.72"/>
<path d="M235.10,274.29V281.37M234.40,274.29H235.80M234.40,281.37H235.80" stroke="#c39be0" stroke-width="0.55" fill="none" opacity="0.72"/>
<path d="M237.45,272.89V282.19M236.75,272.89H238.15M236.75,282.19H238.15" stroke="#c39be0" stroke-width="0.55" fill="none" opacity="0.72"/>
<path d="M239.80,276.65V288.38M239.10,276.65H240.50M239.10,288.38H240.50" stroke="#c39be0" stroke-width="0.55" fill="none" opacity="0.72"/>
<path d="M242.15,279.50V290.02M241.45,279.50H242.85M241.45,290.02H242.85" stroke="#c39be0" stroke-width="0.55" fill="none" opacity="0.72"/>
<path d="M244.50,280.31V289.20M243.80,280.31H245.20M243.80,289.20H245.20" stroke="#c39be0" stroke-width="0.55" fill="none" opacity="0.72"/>
<path d="M246.85,283.22V291.35M246.15,283.22H247.55M246.15,291.35H247.55" stroke="#c39be0" stroke-width="0.55" fill="none" opacity="0.72"/>
<path d="M249.20,282.81V294.51M248.50,282.81H249.90M248.50,294.51H249.90" stroke="#c39be0" stroke-width="0.55" fill="none" opacity="0.72"/>
<path d="M251.55,283.93V290.84M250.85,283.93H252.25M250.85,290.84H252.25" stroke="#c39be0" stroke-width="0.55" fill="none" opacity="0.72"/>
<path d="M253.90,284.74V295.38M253.20,284.74H254.60M253.20,295.38H254.60" stroke="#c39be0" stroke-width="0.55" fill="none" opacity="0.72"/>
<path d="M256.25,283.10V294.20M255.55,283.10H256.95M255.55,294.20H256.95" stroke="#c39be0" stroke-width="0.55" fill="none" opacity="0.72"/>
<path d="M258.60,286.47V293.78M257.90,286.47H259.30M257.90,293.78H259.30" stroke="#c39be0" stroke-width="0.55" fill="none" opacity="0.72"/>
<path d="M260.95,285.61V293.85M260.25,285.61H261.65M260.25,293.85H261.65" stroke="#c39be0" stroke-width="0.55" fill="none" opacity="0.72"/>
<path d="M263.30,286.81V294.94M262.60,286.81H264.00M262.60,294.94H264.00" stroke="#c39be0" stroke-width="0.55" fill="none" opacity="0.72"/>
<path d="M265.65,289.91V299.34M264.95,289.91H266.35M264.95,299.34H266.35" stroke="#c39be0" stroke-width="0.55" fill="none" opacity="0.72"/>
<path d="M268.00,288.75V297.22M267.30,288.75H268.70M267.30,297.22H268.70" stroke="#c39be0" stroke-width="0.55" fill="none" opacity="0.72"/>
<path d="M270.35,289.85V301.22M269.65,289.85H271.05M269.65,301.22H271.05" stroke="#c39be0" stroke-width="0.55" fill="none" opacity="0.72"/>
<path d="M272.70,287.30V298.84M272.00,287.30H273.40M272.00,298.84H273.40" stroke="#c39be0" stroke-width="0.55" fill="none" opacity="0.72"/>
<path d="M275.05,289.39V297.58M274.35,289.39H275.75M274.35,297.58H275.75" stroke="#c39be0" stroke-width="0.55" fill="none" opacity="0.72"/>
<path d="M277.40,288.60V299.98M276.70,288.60H278.10M276.70,299.98H278.10" stroke="#c39be0" stroke-width="0.55" fill="none" opacity="0.72"/>
<path d="M279.75,289.34V296.16M279.05,289.34H280.45M279.05,296.16H280.45" stroke="#c39be0" stroke-width="0.55" fill="none" opacity="0.72"/>
<path d="M282.10,286.16V293.13M281.40,286.16H282.80M281.40,293.13H282.80" stroke="#c39be0" stroke-width="0.55" fill="none" opacity="0.72"/>
<path d="M284.45,285.70V295.81M283.75,285.70H285.15M283.75,295.81H285.15" stroke="#c39be0" stroke-width="0.55" fill="none" opacity="0.72"/>
<path d="M286.80,284.85V295.70M286.10,284.85H287.50M286.10,295.70H287.50" stroke="#c39be0" stroke-width="0.55" fill="none" opacity="0.72"/>
<path d="M289.15,282.46V293.43M288.45,282.46H289.85M288.45,293.43H289.85" stroke="#c39be0" stroke-width="0.55" fill="none" opacity="0.72"/>
<path d="M291.50,281.12V293.04M290.80,281.12H292.20M290.80,293.04H292.20" stroke="#c39be0" stroke-width="0.55" fill="none" opacity="0.72"/>
<path d="M293.85,284.04V295.23M293.15,284.04H294.55M293.15,295.23H294.55" stroke="#c39be0" stroke-width="0.55" fill="none" opacity="0.72"/>
<path d="M296.20,283.67V291.58M295.50,283.67H296.90M295.50,291.58H296.90" stroke="#c39be0" stroke-width="0.55" fill="none" opacity="0.72"/>
<path d="M199.85,229.93 L202.20,239.68 L204.55,246.77 L206.90,254.97 L209.25,258.32 L211.60,261.21 L213.95,265.79 L216.30,267.28 L218.65,267.79 L221.00,271.61 L223.35,272.67 L225.70,276.11 L228.05,275.39 L230.40,276.89 L232.75,280.41 L235.10,277.83 L237.45,277.54 L239.80,282.52 L242.15,284.76 L244.50,284.76 L246.85,287.29 L249.20,288.66 L251.55,287.39 L253.90,290.06 L256.25,288.65 L258.60,290.13 L260.95,289.73 L263.30,290.87 L265.65,294.63 L268.00,292.99 L270.35,295.53 L272.70,293.07 L275.05,293.49 L277.40,294.29 L279.75,292.75 L282.10,289.65 L284.45,290.76 L286.80,290.27 L289.15,287.94 L291.50,287.08 L293.85,289.63 L296.20,287.62" stroke="#c39be0" stroke-width="0.75" fill="none"/>
<circle cx="199.85" cy="229.93" r="1.25" fill="#c39be0"/>
<circle cx="202.20" cy="239.68" r="1.25" fill="#c39be0"/>
<circle cx="204.55" cy="246.77" r="1.25" fill="#c39be0"/>
<circle cx="206.90" cy="254.97" r="1.25" fill="#c39be0"/>
<circle cx="209.25" cy="258.32" r="1.25" fill="#c39be0"/>
<circle cx="211.60" cy="261.21" r="1.25" fill="#c39be0"/>
<circle cx="213.95" cy="265.79" r="1.25" fill="#c39be0"/>
<circle cx="216.30" cy="267.28" r="1.25" fill="#c39be0"/>
<circle cx="218.65" cy="267.79" r="1.25" fill="#c39be0"/>
<circle cx="221.00" cy="271.61" r="1.25" fill="#c39be0"/>
<circle cx="223.35" cy="272.67" r="1.25" fill="#c39be0"/>
<circle cx="225.70" cy="276.11" r="1.25" fill="#c39be0"/>
<circle cx="228.05" cy="275.39" r="1.25" fill="#c39be0"/>
<circle cx="230.40" cy="276.89" r="1.25" fill="#c39be0"/>
<circle cx="232.75" cy="280.41" r="1.25" fill="#c39be0"/>
<circle cx="235.10" cy="277.83" r="1.25" fill="#c39be0"/>
<circle cx="237.45" cy="277.54" r="1.25" fill="#c39be0"/>
<circle cx="239.80" cy="282.52" r="1.25" fill="#c39be0"/>
<circle cx="242.15" cy="284.76" r="1.25" fill="#c39be0"/>
<circle cx="244.50" cy="284.76" r="1.25" fill="#c39be0"/>
<circle cx="246.85" cy="287.29" r="1.25" fill="#c39be0"/>
<circle cx="249.20" cy="288.66" r="1.25" fill="#c39be0"/>
<circle cx="251.55" cy="287.39" r="1.25" fill="#c39be0"/>
<circle cx="253.90" cy="290.06" r="1.25" fill="#c39be0"/>
<circle cx="256.25" cy="288.65" r="1.25" fill="#c39be0"/>
<circle cx="258.60" cy="290.13" r="1.25" fill="#c39be0"/>
<circle cx="260.95" cy="289.73" r="1.25" fill="#c39be0"/>
<circle cx="263.30" cy="290.87" r="1.25" fill="#c39be0"/>
<circle cx="265.65" cy="294.63" r="1.25" fill="#c39be0"/>
<circle cx="268.00" cy="292.99" r="1.25" fill="#c39be0"/>
<circle cx="270.35" cy="295.53" r="1.25" fill="#c39be0"/>
<circle cx="272.70" cy="293.07" r="1.25" fill="#c39be0"/>
<circle cx="275.05" cy="293.49" r="1.25" fill="#c39be0"/>
<circle cx="277.40" cy="294.29" r="1.25" fill="#c39be0"/>
<circle cx="279.75" cy="292.75" r="1.25" fill="#c39be0"/>
<circle cx="282.10" cy="289.65" r="1.25" fill="#c39be0"/>
<circle cx="284.45" cy="290.76" r="1.25" fill="#c39be0"/>
<circle cx="286.80" cy="290.27" r="1.25" fill="#c39be0"/>
<circle cx="289.15" cy="287.94" r="1.25" fill="#c39be0"/>
<circle cx="291.50" cy="287.08" r="1.25" fill="#c39be0"/>
<circle cx="293.85" cy="289.63" r="1.25" fill="#c39be0"/>
<circle cx="296.20" cy="287.62" r="1.25" fill="#c39be0"/>
<line x1="199.20" y1="293.00" x2="203.40" y2="293.00" stroke="#111111" stroke-width="0.9"/>
<circle cx="201.30" cy="293.00" r="0.8" fill="#111111"/>
<text x="207.90" y="295.45" font-size="6.85" text-anchor="start" fill="#111" >DMSO</text>
<line x1="199.20" y1="300.30" x2="203.40" y2="300.30" stroke="#f01010" stroke-width="0.9"/>
<circle cx="201.30" cy="300.30" r="0.8" fill="#f01010"/>
<text x="207.90" y="302.75" font-size="6.85" text-anchor="start" fill="#111" >Adagrasib</text>
<line x1="199.20" y1="307.60" x2="203.40" y2="307.60" stroke="#6cc6f0" stroke-width="0.9"/>
<circle cx="201.30" cy="307.60" r="0.8" fill="#6cc6f0"/>
<text x="207.90" y="310.05" font-size="6.85" text-anchor="start" fill="#111" >Azenosertib</text>
<line x1="199.20" y1="314.90" x2="203.40" y2="314.90" stroke="#c39be0" stroke-width="0.9"/>
<circle cx="201.30" cy="314.90" r="0.8" fill="#c39be0"/>
<text x="207.90" y="317.35" font-size="6.85" text-anchor="start" fill="#111" >Azenosertib + adagrasib</text>
<text x="295.50" y="9.60" font-size="10.8" text-anchor="start" font-weight="bold" fill="#000" >C</text>
<text x="363.60" y="14.60" font-size="7" text-anchor="middle" fill="#222" >Sotorasib</text>
<text x="416.60" y="14.60" font-size="7" text-anchor="middle" fill="#222" >Adagrasib</text>
<line x1="338" y1="17.6" x2="387.2" y2="17.6" stroke="#333" stroke-width="0.9"/>
<line x1="391" y1="17.6" x2="440.2" y2="17.6" stroke="#333" stroke-width="0.9"/>
<text x="335.20" y="27.60" font-size="7" text-anchor="end" fill="#222" >Azenosertib</text>
<text x="331.20" y="38.40" font-size="7" text-anchor="end" fill="#222" >KRASi</text>
<text x="343.30" y="28.00" font-size="8.2" text-anchor="middle" fill="#111" >−</text>
<text x="343.30" y="38.30" font-size="8.2" text-anchor="middle" fill="#111" >−</text>
<text x="357.00" y="28.00" font-size="8.2" text-anchor="middle" fill="#111" >+</text>
<text x="357.00" y="38.30" font-size="8.2" text-anchor="middle" fill="#111" >−</text>
<text x="370.10" y="28.00" font-size="8.2" text-anchor="middle" fill="#111" >−</text>
<text x="370.10" y="38.30" font-size="8.2" text-anchor="middle" fill="#111" >+</text>
<text x="381.00" y="28.00" font-size="8.2" text-anchor="middle" fill="#111" >+</text>
<text x="381.00" y="38.30" font-size="8.2" text-anchor="middle" fill="#111" >+</text>
<text x="397.90" y="28.00" font-size="8.2" text-anchor="middle" fill="#111" >−</text>
<text x="397.90" y="38.30" font-size="8.2" text-anchor="middle" fill="#111" >−</text>
<text x="411.60" y="28.00" font-size="8.2" text-anchor="middle" fill="#111" >+</text>
<text x="411.60" y="38.30" font-size="8.2" text-anchor="middle" fill="#111" >−</text>
<text x="424.70" y="28.00" font-size="8.2" text-anchor="middle" fill="#111" >−</text>
<text x="424.70" y="38.30" font-size="8.2" text-anchor="middle" fill="#111" >+</text>
<text x="435.60" y="28.00" font-size="8.2" text-anchor="middle" fill="#111" >+</text>
<text x="435.60" y="38.30" font-size="8.2" text-anchor="middle" fill="#111" >+</text>
<text x="448.80" y="33.50" font-size="7.05" text-anchor="start" font-weight="bold" fill="#000" >NCI-H23 (3D)</text>
<defs><filter id="bl" x="-20%" y="-80%" width="140%" height="260%"><feGaussianBlur stdDeviation="0.4 0.85"/></filter><filter id="bl2" x="-20%" y="-50%" width="140%" height="200%"><feGaussianBlur stdDeviation="0.3 1.0"/></filter></defs>
<rect x="335.80" y="42.50" width="51.4" height="12.80" rx="0.9" fill="#fff" stroke="#2a2a2a" stroke-width="1.2"/>
<rect x="337.50" y="47.70" width="11.00" height="3.60" rx="0.8" fill="rgb(112,112,112)" filter="url(#bl)"/>
<rect x="350.00" y="47.70" width="11.00" height="3.60" rx="0.8" fill="rgb(208,208,208)" filter="url(#bl)"/>
<rect x="362.50" y="47.70" width="11.00" height="3.60" rx="0.8" fill="rgb(196,196,196)" filter="url(#bl)"/>
<rect x="375.00" y="47.70" width="11.00" height="3.60" rx="0.8" fill="rgb(238,238,238)" filter="url(#bl)"/>
<rect x="390.80" y="42.50" width="51.4" height="12.80" rx="0.9" fill="#fff" stroke="#2a2a2a" stroke-width="1.2"/>
<rect x="392.50" y="47.70" width="11.00" height="3.60" rx="0.8" fill="rgb(112,112,112)" filter="url(#bl)"/>
<rect x="405.00" y="47.70" width="11.00" height="3.60" rx="0.8" fill="rgb(232,232,232)" filter="url(#bl)"/>
<rect x="417.50" y="47.70" width="11.00" height="3.60" rx="0.8" fill="rgb(116,116,116)" filter="url(#bl)"/>
<rect x="430.00" y="47.70" width="11.00" height="3.60" rx="0.8" fill="rgb(240,240,240)" filter="url(#bl)"/>
<text x="448.80" y="51.25" font-size="7" text-anchor="start" fill="#111" >p-CDK1 (Y15)</text>
<rect x="335.80" y="58.20" width="51.4" height="12.60" rx="0.9" fill="#fff" stroke="#2a2a2a" stroke-width="1.2"/>
<rect x="337.50" y="61.80" width="11.00" height="6.20" rx="0.8" fill="rgb(108,108,108)" filter="url(#bl)"/>
<rect x="350.00" y="61.80" width="11.00" height="6.20" rx="0.8" fill="rgb(104,104,104)" filter="url(#bl)"/>
<rect x="362.50" y="61.80" width="11.00" height="6.20" rx="0.8" fill="rgb(112,112,112)" filter="url(#bl)"/>
<rect x="375.00" y="61.80" width="11.00" height="6.20" rx="0.8" fill="rgb(128,128,128)" filter="url(#bl)"/>
<rect x="390.80" y="58.20" width="51.4" height="12.60" rx="0.9" fill="#fff" stroke="#2a2a2a" stroke-width="1.2"/>
<rect x="392.50" y="61.80" width="11.00" height="6.20" rx="0.8" fill="rgb(104,104,104)" filter="url(#bl)"/>
<rect x="405.00" y="61.80" width="11.00" height="6.20" rx="0.8" fill="rgb(104,104,104)" filter="url(#bl)"/>
<rect x="417.50" y="61.80" width="11.00" height="6.20" rx="0.8" fill="rgb(108,108,108)" filter="url(#bl)"/>
<rect x="430.00" y="61.80" width="11.00" height="6.20" rx="0.8" fill="rgb(120,120,120)" filter="url(#bl)"/>
<text x="448.80" y="67.00" font-size="7" text-anchor="start" fill="#111" >T-CDK1</text>
<rect x="335.80" y="73.80" width="51.4" height="12.40" rx="0.9" fill="#fff" stroke="#2a2a2a" stroke-width="1.2"/>
<rect x="337.80" y="76.20" width="10.40" height="7.60" fill="rgb(234,234,234)" filter="url(#bl2)"/>
<rect x="337.80" y="76.40" width="10.40" height="5.00" fill="rgb(236,236,236)" filter="url(#bl2)"/>
<rect x="337.50" y="79.40" width="11.00" height="4.00" rx="0.8" fill="rgb(128,128,128)" filter="url(#bl)"/>
<rect x="350.30" y="76.20" width="10.40" height="7.60" fill="rgb(228,228,228)" filter="url(#bl2)"/>
<rect x="350.30" y="76.40" width="10.40" height="5.00" fill="rgb(208,208,208)" filter="url(#bl2)"/>
<rect x="350.00" y="79.40" width="11.00" height="4.00" rx="0.8" fill="rgb(120,120,120)" filter="url(#bl)"/>
<rect x="362.80" y="76.20" width="10.40" height="7.60" fill="rgb(228,228,228)" filter="url(#bl2)"/>
<rect x="362.80" y="76.40" width="10.40" height="5.00" fill="rgb(238,238,238)" filter="url(#bl2)"/>
<rect x="362.50" y="79.40" width="11.00" height="4.00" rx="0.8" fill="rgb(216,216,216)" filter="url(#bl)"/>
<rect x="375.30" y="76.20" width="10.40" height="7.60" fill="rgb(224,224,224)" filter="url(#bl2)"/>
<rect x="375.30" y="76.40" width="10.40" height="5.00" fill="rgb(236,236,236)" filter="url(#bl2)"/>
<rect x="375.00" y="79.40" width="11.00" height="4.00" rx="0.8" fill="rgb(212,212,212)" filter="url(#bl)"/>
<rect x="390.80" y="73.80" width="51.4" height="12.40" rx="0.9" fill="#fff" stroke="#2a2a2a" stroke-width="1.2"/>
<rect x="392.80" y="76.20" width="10.40" height="7.60" fill="rgb(234,234,234)" filter="url(#bl2)"/>
<rect x="392.80" y="76.40" width="10.40" height="5.00" fill="rgb(236,236,236)" filter="url(#bl2)"/>
<rect x="392.50" y="79.40" width="11.00" height="4.00" rx="0.8" fill="rgb(128,128,128)" filter="url(#bl)"/>
<rect x="405.30" y="76.20" width="10.40" height="7.60" fill="rgb(228,228,228)" filter="url(#bl2)"/>
<rect x="405.30" y="76.40" width="10.40" height="5.00" fill="rgb(208,208,208)" filter="url(#bl2)"/>
<rect x="405.00" y="79.40" width="11.00" height="4.00" rx="0.8" fill="rgb(120,120,120)" filter="url(#bl)"/>
<rect x="417.80" y="76.20" width="10.40" height="7.60" fill="rgb(228,228,228)" filter="url(#bl2)"/>
<rect x="417.80" y="76.40" width="10.40" height="5.00" fill="rgb(238,238,238)" filter="url(#bl2)"/>
<rect x="417.50" y="79.40" width="11.00" height="4.00" rx="0.8" fill="rgb(204,204,204)" filter="url(#bl)"/>
<rect x="430.30" y="76.20" width="10.40" height="7.60" fill="rgb(224,224,224)" filter="url(#bl2)"/>
<rect x="430.30" y="76.40" width="10.40" height="5.00" fill="rgb(236,236,236)" filter="url(#bl2)"/>
<rect x="430.00" y="79.40" width="11.00" height="4.00" rx="0.8" fill="rgb(204,204,204)" filter="url(#bl)"/>
<text x="448.80" y="82.80" font-size="7" text-anchor="start" fill="#111" >p-ERK1/2 (T202/Y204)</text>
<rect x="335.80" y="89.30" width="51.4" height="12.10" rx="0.9" fill="#fff" stroke="#2a2a2a" stroke-width="1.2"/>
<rect x="337.50" y="93.05" width="11.00" height="5.20" rx="0.8" fill="rgb(104,104,104)" filter="url(#bl)"/>
<rect x="350.00" y="93.05" width="11.00" height="5.20" rx="0.8" fill="rgb(104,104,104)" filter="url(#bl)"/>
<rect x="362.50" y="93.05" width="11.00" height="5.20" rx="0.8" fill="rgb(100,100,100)" filter="url(#bl)"/>
<rect x="375.00" y="93.05" width="11.00" height="5.20" rx="0.8" fill="rgb(104,104,104)" filter="url(#bl)"/>
<rect x="390.80" y="89.30" width="51.4" height="12.10" rx="0.9" fill="#fff" stroke="#2a2a2a" stroke-width="1.2"/>
<rect x="392.50" y="93.05" width="11.00" height="5.20" rx="0.8" fill="rgb(104,104,104)" filter="url(#bl)"/>
<rect x="405.00" y="93.05" width="11.00" height="5.20" rx="0.8" fill="rgb(104,104,104)" filter="url(#bl)"/>
<rect x="417.50" y="93.05" width="11.00" height="5.20" rx="0.8" fill="rgb(100,100,100)" filter="url(#bl)"/>
<rect x="430.00" y="93.05" width="11.00" height="5.20" rx="0.8" fill="rgb(104,104,104)" filter="url(#bl)"/>
<text x="448.80" y="97.70" font-size="7" text-anchor="start" fill="#111" >T-ERK1/2</text>
<rect x="335.80" y="104.30" width="51.4" height="12.10" rx="0.9" fill="#fff" stroke="#2a2a2a" stroke-width="1.2"/>
<rect x="337.50" y="109.15" width="11.00" height="4.00" rx="0.8" fill="rgb(116,116,116)" filter="url(#bl)"/>
<rect x="350.00" y="109.15" width="11.00" height="4.00" rx="0.8" fill="rgb(116,116,116)" filter="url(#bl)"/>
<rect x="362.50" y="109.15" width="11.00" height="4.00" rx="0.8" fill="rgb(236,236,236)" filter="url(#bl)"/>
<rect x="375.00" y="109.15" width="11.00" height="4.00" rx="0.8" fill="rgb(240,240,240)" filter="url(#bl)"/>
<rect x="390.80" y="104.30" width="51.4" height="12.10" rx="0.9" fill="#fff" stroke="#2a2a2a" stroke-width="1.2"/>
<rect x="392.50" y="109.15" width="11.00" height="4.00" rx="0.8" fill="rgb(116,116,116)" filter="url(#bl)"/>
<rect x="405.00" y="109.15" width="11.00" height="4.00" rx="0.8" fill="rgb(116,116,116)" filter="url(#bl)"/>
<rect x="417.50" y="109.15" width="11.00" height="4.00" rx="0.8" fill="rgb(232,232,232)" filter="url(#bl)"/>
<rect x="430.00" y="109.15" width="11.00" height="4.00" rx="0.8" fill="rgb(238,238,238)" filter="url(#bl)"/>
<text x="448.80" y="112.30" font-size="7" text-anchor="start" fill="#111" >p-S6 (S240/244)</text>
<rect x="335.80" y="118.50" width="51.4" height="12.40" rx="0.9" fill="#fff" stroke="#2a2a2a" stroke-width="1.2"/>
<rect x="337.50" y="122.80" width="11.00" height="5.00" rx="0.8" fill="rgb(104,104,104)" filter="url(#bl)"/>
<rect x="350.00" y="122.80" width="11.00" height="5.00" rx="0.8" fill="rgb(100,100,100)" filter="url(#bl)"/>
<rect x="362.50" y="122.80" width="11.00" height="5.00" rx="0.8" fill="rgb(104,104,104)" filter="url(#bl)"/>
<rect x="375.00" y="122.80" width="11.00" height="5.00" rx="0.8" fill="rgb(108,108,108)" filter="url(#bl)"/>
<rect x="390.80" y="118.50" width="51.4" height="12.40" rx="0.9" fill="#fff" stroke="#2a2a2a" stroke-width="1.2"/>
<rect x="392.50" y="122.80" width="11.00" height="5.00" rx="0.8" fill="rgb(104,104,104)" filter="url(#bl)"/>
<rect x="405.00" y="122.80" width="11.00" height="5.00" rx="0.8" fill="rgb(104,104,104)" filter="url(#bl)"/>
<rect x="417.50" y="122.80" width="11.00" height="5.00" rx="0.8" fill="rgb(104,104,104)" filter="url(#bl)"/>
<rect x="430.00" y="122.80" width="11.00" height="5.00" rx="0.8" fill="rgb(104,104,104)" filter="url(#bl)"/>
<text x="448.80" y="127.20" font-size="7" text-anchor="start" fill="#111" >T-S6</text>
<rect x="335.80" y="134.50" width="51.4" height="13.50" rx="0.9" fill="#fff" stroke="#2a2a2a" stroke-width="1.2"/>
<rect x="337.50" y="139.75" width="11.00" height="4.20" rx="0.8" fill="rgb(246,246,246)" filter="url(#bl)"/>
<rect x="350.00" y="139.75" width="11.00" height="4.20" rx="0.8" fill="rgb(184,184,184)" filter="url(#bl)"/>
<rect x="362.50" y="139.75" width="11.00" height="4.20" rx="0.8" fill="rgb(232,232,232)" filter="url(#bl)"/>
<rect x="375.00" y="139.75" width="11.00" height="4.20" rx="0.8" fill="rgb(98,98,98)" filter="url(#bl)"/>
<rect x="390.80" y="134.50" width="51.4" height="13.50" rx="0.9" fill="#fff" stroke="#2a2a2a" stroke-width="1.2"/>
<rect x="392.50" y="139.75" width="11.00" height="4.20" rx="0.8" fill="rgb(246,246,246)" filter="url(#bl)"/>
<rect x="405.00" y="139.75" width="11.00" height="4.20" rx="0.8" fill="rgb(164,164,164)" filter="url(#bl)"/>
<rect x="417.50" y="139.75" width="11.00" height="4.20" rx="0.8" fill="rgb(236,236,236)" filter="url(#bl)"/>
<rect x="430.00" y="139.75" width="11.00" height="4.20" rx="0.8" fill="rgb(98,98,98)" filter="url(#bl)"/>
<text x="448.80" y="143.60" font-size="7" text-anchor="start" fill="#111" >γH2AX (S139)</text>
<rect x="335.80" y="151.80" width="51.4" height="15.50" rx="0.9" fill="#fff" stroke="#2a2a2a" stroke-width="1.2"/>
<rect x="337.50" y="155.10" width="11.00" height="3.40" rx="0.8" fill="rgb(238,238,238)" filter="url(#bl)"/>
<rect x="350.00" y="155.10" width="11.00" height="3.40" rx="0.8" fill="rgb(236,236,236)" filter="url(#bl)"/>
<rect x="362.50" y="155.10" width="11.00" height="3.40" rx="0.8" fill="rgb(198,198,198)" filter="url(#bl)"/>
<rect x="375.00" y="154.80" width="11.00" height="4.00" rx="0.8" fill="rgb(98,98,98)" filter="url(#bl)"/>
<rect x="375.00" y="162.30" width="11.00" height="2.60" rx="0.8" fill="rgb(138,138,138)" filter="url(#bl)"/>
<rect x="390.80" y="151.80" width="51.4" height="15.50" rx="0.9" fill="#fff" stroke="#2a2a2a" stroke-width="1.2"/>
<rect x="392.50" y="155.10" width="11.00" height="3.40" rx="0.8" fill="rgb(232,232,232)" filter="url(#bl)"/>
<rect x="405.00" y="155.10" width="11.00" height="3.40" rx="0.8" fill="rgb(228,228,228)" filter="url(#bl)"/>
<rect x="417.50" y="155.10" width="11.00" height="3.40" rx="0.8" fill="rgb(176,176,176)" filter="url(#bl)"/>
<rect x="430.00" y="154.80" width="11.00" height="4.00" rx="0.8" fill="rgb(98,98,98)" filter="url(#bl)"/>
<rect x="430.00" y="162.30" width="11.00" height="2.60" rx="0.8" fill="rgb(138,138,138)" filter="url(#bl)"/>
<text x="448.80" y="161.70" font-size="7" text-anchor="start" fill="#111" >c-Casp-3 (D175)</text>
<rect x="335.80" y="170.80" width="51.4" height="13.50" rx="0.9" fill="#fff" stroke="#2a2a2a" stroke-width="1.2"/>
<rect x="337.50" y="175.45" width="11.00" height="5.40" rx="0.8" fill="rgb(242,242,242)" filter="url(#bl)"/>
<rect x="350.00" y="175.45" width="11.00" height="5.40" rx="0.8" fill="rgb(220,220,220)" filter="url(#bl)"/>
<rect x="362.50" y="175.45" width="11.00" height="5.40" rx="0.8" fill="rgb(182,182,182)" filter="url(#bl)"/>
<rect x="375.00" y="175.45" width="11.00" height="5.40" rx="0.8" fill="rgb(78,78,78)" filter="url(#bl)"/>
<rect x="390.80" y="170.80" width="51.4" height="13.50" rx="0.9" fill="#fff" stroke="#2a2a2a" stroke-width="1.2"/>
<rect x="392.50" y="175.45" width="11.00" height="5.40" rx="0.8" fill="rgb(242,242,242)" filter="url(#bl)"/>
<rect x="405.00" y="175.45" width="11.00" height="5.40" rx="0.8" fill="rgb(224,224,224)" filter="url(#bl)"/>
<rect x="417.50" y="175.45" width="11.00" height="5.40" rx="0.8" fill="rgb(180,180,180)" filter="url(#bl)"/>
<rect x="430.00" y="175.45" width="11.00" height="5.40" rx="0.8" fill="rgb(78,78,78)" filter="url(#bl)"/>
<text x="448.80" y="178.80" font-size="7" text-anchor="start" fill="#111" >c-Casp-7 (D198)</text>
<rect x="335.80" y="187.40" width="51.4" height="12.80" rx="0.9" fill="#fff" stroke="#2a2a2a" stroke-width="1.2"/>
<rect x="337.50" y="191.70" width="11.00" height="4.80" rx="0.8" fill="rgb(108,108,108)" filter="url(#bl)"/>
<rect x="350.00" y="191.70" width="11.00" height="4.80" rx="0.8" fill="rgb(108,108,108)" filter="url(#bl)"/>
<rect x="362.50" y="191.70" width="11.00" height="4.80" rx="0.8" fill="rgb(104,104,104)" filter="url(#bl)"/>
<rect x="375.00" y="191.70" width="11.00" height="4.80" rx="0.8" fill="rgb(104,104,104)" filter="url(#bl)"/>
<rect x="390.80" y="187.40" width="51.4" height="12.80" rx="0.9" fill="#fff" stroke="#2a2a2a" stroke-width="1.2"/>
<rect x="392.50" y="191.70" width="11.00" height="4.80" rx="0.8" fill="rgb(104,104,104)" filter="url(#bl)"/>
<rect x="405.00" y="191.70" width="11.00" height="4.80" rx="0.8" fill="rgb(104,104,104)" filter="url(#bl)"/>
<rect x="417.50" y="191.70" width="11.00" height="4.80" rx="0.8" fill="rgb(100,100,100)" filter="url(#bl)"/>
<rect x="430.00" y="191.70" width="11.00" height="4.80" rx="0.8" fill="rgb(104,104,104)" filter="url(#bl)"/>
<text x="448.80" y="195.60" font-size="7" text-anchor="start" fill="#111" >Vinculin</text>
<line x1="333.2" y1="45.3" x2="333.2" y2="129.8" stroke="#9450b8" stroke-width="1.1"/>
<line x1="332.8" y1="135" x2="332.8" y2="148.3" stroke="#e8202a" stroke-width="1.1"/>
<line x1="332.8" y1="152.4" x2="332.8" y2="182.3" stroke="#13934a" stroke-width="1.1"/>
<text x="0" y="0" font-size="6.95" font-weight="bold" fill="#9450b8" stroke="#9450b8" stroke-width="0.12" text-anchor="middle" transform="translate(331.5,88.0) rotate(-90)">Target engagement</text>
<text x="0" y="0" font-size="6.8" font-weight="bold" fill="#e8202a" stroke="#e8202a" stroke-width="0.15" text-anchor="middle" transform="translate(331.4,141.3) rotate(-90)">DDR</text>
<text x="0" y="0" font-size="6.8" font-weight="bold" fill="#13934a" stroke="#13934a" stroke-width="0.15" text-anchor="middle" transform="translate(331.4,167.4) rotate(-90)">Apoptosis</text>
<rect x="335.6" y="205.3" width="107.2" height="14.2" fill="#0d3a96"/>
<rect x="355.4" y="212.4" width="87.4" height="7.1" fill="#fff"/>
<rect x="355.80" y="212.7" width="28.20" height="6.6" fill="#fff" stroke="#333" stroke-width="0.5"/>
<rect x="384.80" y="212.7" width="28.40" height="6.6" fill="#fff" stroke="#333" stroke-width="0.5"/>
<rect x="414.00" y="212.7" width="28.40" height="6.6" fill="#fff" stroke="#333" stroke-width="0.5"/>
<text x="345.50" y="214.30" font-size="5.5" text-anchor="middle" font-weight="bold" fill="#fff" >Target</text>
<text x="399.10" y="210.90" font-size="5.4" text-anchor="middle" font-weight="bold" fill="#fff" >Fold change relative to DMSO</text>
<text x="369.90" y="218.10" font-size="5.0" text-anchor="middle" fill="#222" >Azenosertib</text>
<text x="399.00" y="218.10" font-size="5.0" text-anchor="middle" fill="#222" >KRASi</text>
<text x="428.20" y="218.10" font-size="5.0" text-anchor="middle" fill="#222" >Combo</text>
<rect x="335.6" y="220.00" width="19.8" height="8.20" fill="#fff" stroke="#222" stroke-width="0.5"/>
<text x="336.80" y="225.60" font-size="4.3" text-anchor="start" fill="#222" >γH2AX</text>
<rect x="355.40" y="220.00" width="29.00" height="8.20" fill="rgb(254,219,129)" stroke="#222" stroke-width="0.5"/>
<text x="369.90" y="226.00" font-size="5.3" text-anchor="middle" fill="#222" >4.0</text>
<rect x="384.40" y="220.00" width="29.20" height="8.20" fill="rgb(151,205,126)" stroke="#222" stroke-width="0.5"/>
<text x="399.00" y="226.00" font-size="5.3" text-anchor="middle" fill="#222" >1.9</text>
<rect x="413.60" y="220.00" width="29.20" height="8.20" fill="rgb(248,105,107)" stroke="#222" stroke-width="0.5"/>
<text x="428.20" y="226.00" font-size="5.3" text-anchor="middle" fill="#222" >10.2</text>
<rect x="335.6" y="228.20" width="19.8" height="8.20" fill="#fff" stroke="#222" stroke-width="0.5"/>
<text x="336.80" y="233.80" font-size="4.3" text-anchor="start" fill="#222" >c-Casp-3</text>
<rect x="355.40" y="228.20" width="29.00" height="8.20" fill="rgb(99,190,123)" stroke="#222" stroke-width="0.5"/>
<text x="369.90" y="234.20" font-size="5.3" text-anchor="middle" fill="#222" >1.3</text>
<rect x="384.40" y="228.20" width="29.20" height="8.20" fill="rgb(186,215,128)" stroke="#222" stroke-width="0.5"/>
<text x="399.00" y="234.20" font-size="5.3" text-anchor="middle" fill="#222" >2.3</text>
<rect x="413.60" y="228.20" width="29.20" height="8.20" fill="rgb(249,127,111)" stroke="#222" stroke-width="0.5"/>
<text x="428.20" y="234.20" font-size="5.3" text-anchor="middle" fill="#222" >9.0</text>
<rect x="335.6" y="236.40" width="19.8" height="8.20" fill="#fff" stroke="#222" stroke-width="0.5"/>
<text x="336.80" y="242.00" font-size="4.3" text-anchor="start" fill="#222" >c-Casp-7</text>
<rect x="355.40" y="236.40" width="29.00" height="8.20" fill="rgb(125,198,124)" stroke="#222" stroke-width="0.5"/>
<text x="369.90" y="242.40" font-size="5.3" text-anchor="middle" fill="#222" >1.6</text>
<rect x="384.40" y="236.40" width="29.20" height="8.20" fill="rgb(255,231,131)" stroke="#222" stroke-width="0.5"/>
<text x="399.00" y="242.40" font-size="5.3" text-anchor="middle" fill="#222" >3.3</text>
<rect x="413.60" y="236.40" width="29.20" height="8.20" fill="rgb(250,149,115)" stroke="#222" stroke-width="0.5"/>
<text x="428.20" y="242.40" font-size="5.3" text-anchor="middle" fill="#222" >7.8</text>
<rect x="335.6" y="245.00" width="19.8" height="8.20" fill="#fff" stroke="#222" stroke-width="0.5"/>
<text x="336.80" y="250.60" font-size="4.3" text-anchor="start" fill="#222" >γH2AX</text>
<rect x="355.40" y="245.00" width="29.00" height="8.20" fill="rgb(253,195,124)" stroke="#222" stroke-width="0.5"/>
<text x="369.90" y="251.00" font-size="5.3" text-anchor="middle" fill="#222" >5.3</text>
<rect x="384.40" y="245.00" width="29.20" height="8.20" fill="rgb(125,198,124)" stroke="#222" stroke-width="0.5"/>
<text x="399.00" y="251.00" font-size="5.3" text-anchor="middle" fill="#222" >1.6</text>
<rect x="413.60" y="245.00" width="29.20" height="8.20" fill="rgb(249,116,109)" stroke="#222" stroke-width="0.5"/>
<text x="428.20" y="251.00" font-size="5.3" text-anchor="middle" fill="#222" >9.6</text>
<rect x="335.6" y="253.20" width="19.8" height="8.20" fill="#fff" stroke="#222" stroke-width="0.5"/>
<text x="336.80" y="258.80" font-size="4.3" text-anchor="start" fill="#222" >c-Casp-3</text>
<rect x="355.40" y="253.20" width="29.00" height="8.20" fill="rgb(108,192,124)" stroke="#222" stroke-width="0.5"/>
<text x="369.90" y="259.20" font-size="5.3" text-anchor="middle" fill="#222" >1.4</text>
<rect x="384.40" y="253.20" width="29.20" height="8.20" fill="rgb(220,225,130)" stroke="#222" stroke-width="0.5"/>
<text x="399.00" y="259.20" font-size="5.3" text-anchor="middle" fill="#222" >2.7</text>
<rect x="413.60" y="253.20" width="29.20" height="8.20" fill="rgb(252,171,120)" stroke="#222" stroke-width="0.5"/>
<text x="428.20" y="259.20" font-size="5.3" text-anchor="middle" fill="#222" >6.6</text>
<rect x="335.6" y="261.40" width="19.8" height="8.20" fill="#fff" stroke="#222" stroke-width="0.5"/>
<text x="336.80" y="267.00" font-size="4.3" text-anchor="start" fill="#222" >c-Casp-7</text>
<rect x="355.40" y="261.40" width="29.00" height="8.20" fill="rgb(125,198,124)" stroke="#222" stroke-width="0.5"/>
<text x="369.90" y="267.40" font-size="5.3" text-anchor="middle" fill="#222" >1.6</text>
<rect x="384.40" y="261.40" width="29.20" height="8.20" fill="rgb(238,230,131)" stroke="#222" stroke-width="0.5"/>
<text x="399.00" y="267.40" font-size="5.3" text-anchor="middle" fill="#222" >2.9</text>
<rect x="413.60" y="261.40" width="29.20" height="8.20" fill="rgb(251,154,117)" stroke="#222" stroke-width="0.5"/>
<text x="428.20" y="267.40" font-size="5.3" text-anchor="middle" fill="#222" >7.5</text>
<rect x="326.6" y="220.00" width="8.6" height="24.60" fill="#fff" stroke="#444" stroke-width="0.5"/>
<text x="0" y="0" font-size="5.0" text-anchor="middle" fill="#333" transform="translate(332.60,232.30) rotate(-90)">Sotorasib</text>
<rect x="326.6" y="245.00" width="8.6" height="24.60" fill="#fff" stroke="#444" stroke-width="0.5"/>
<text x="0" y="0" font-size="5.0" text-anchor="middle" fill="#333" transform="translate(332.60,257.30) rotate(-90)">Adagrasib</text>
<rect x="450.3" y="215" width="4.8" height="54.6" fill="url(#fc)"/>
<text x="447.80" y="216.50" font-size="4.0" text-anchor="middle" font-weight="bold" fill="#222" >11</text>
<text x="447.80" y="270.80" font-size="4.0" text-anchor="middle" font-weight="bold" fill="#222" >0</text>
<text x="0" y="0" font-size="4.4" font-weight="bold" text-anchor="middle" fill="#222" transform="translate(446.2,240.3) rotate(90)">Fold change</text>
</svg>
</body></html>
